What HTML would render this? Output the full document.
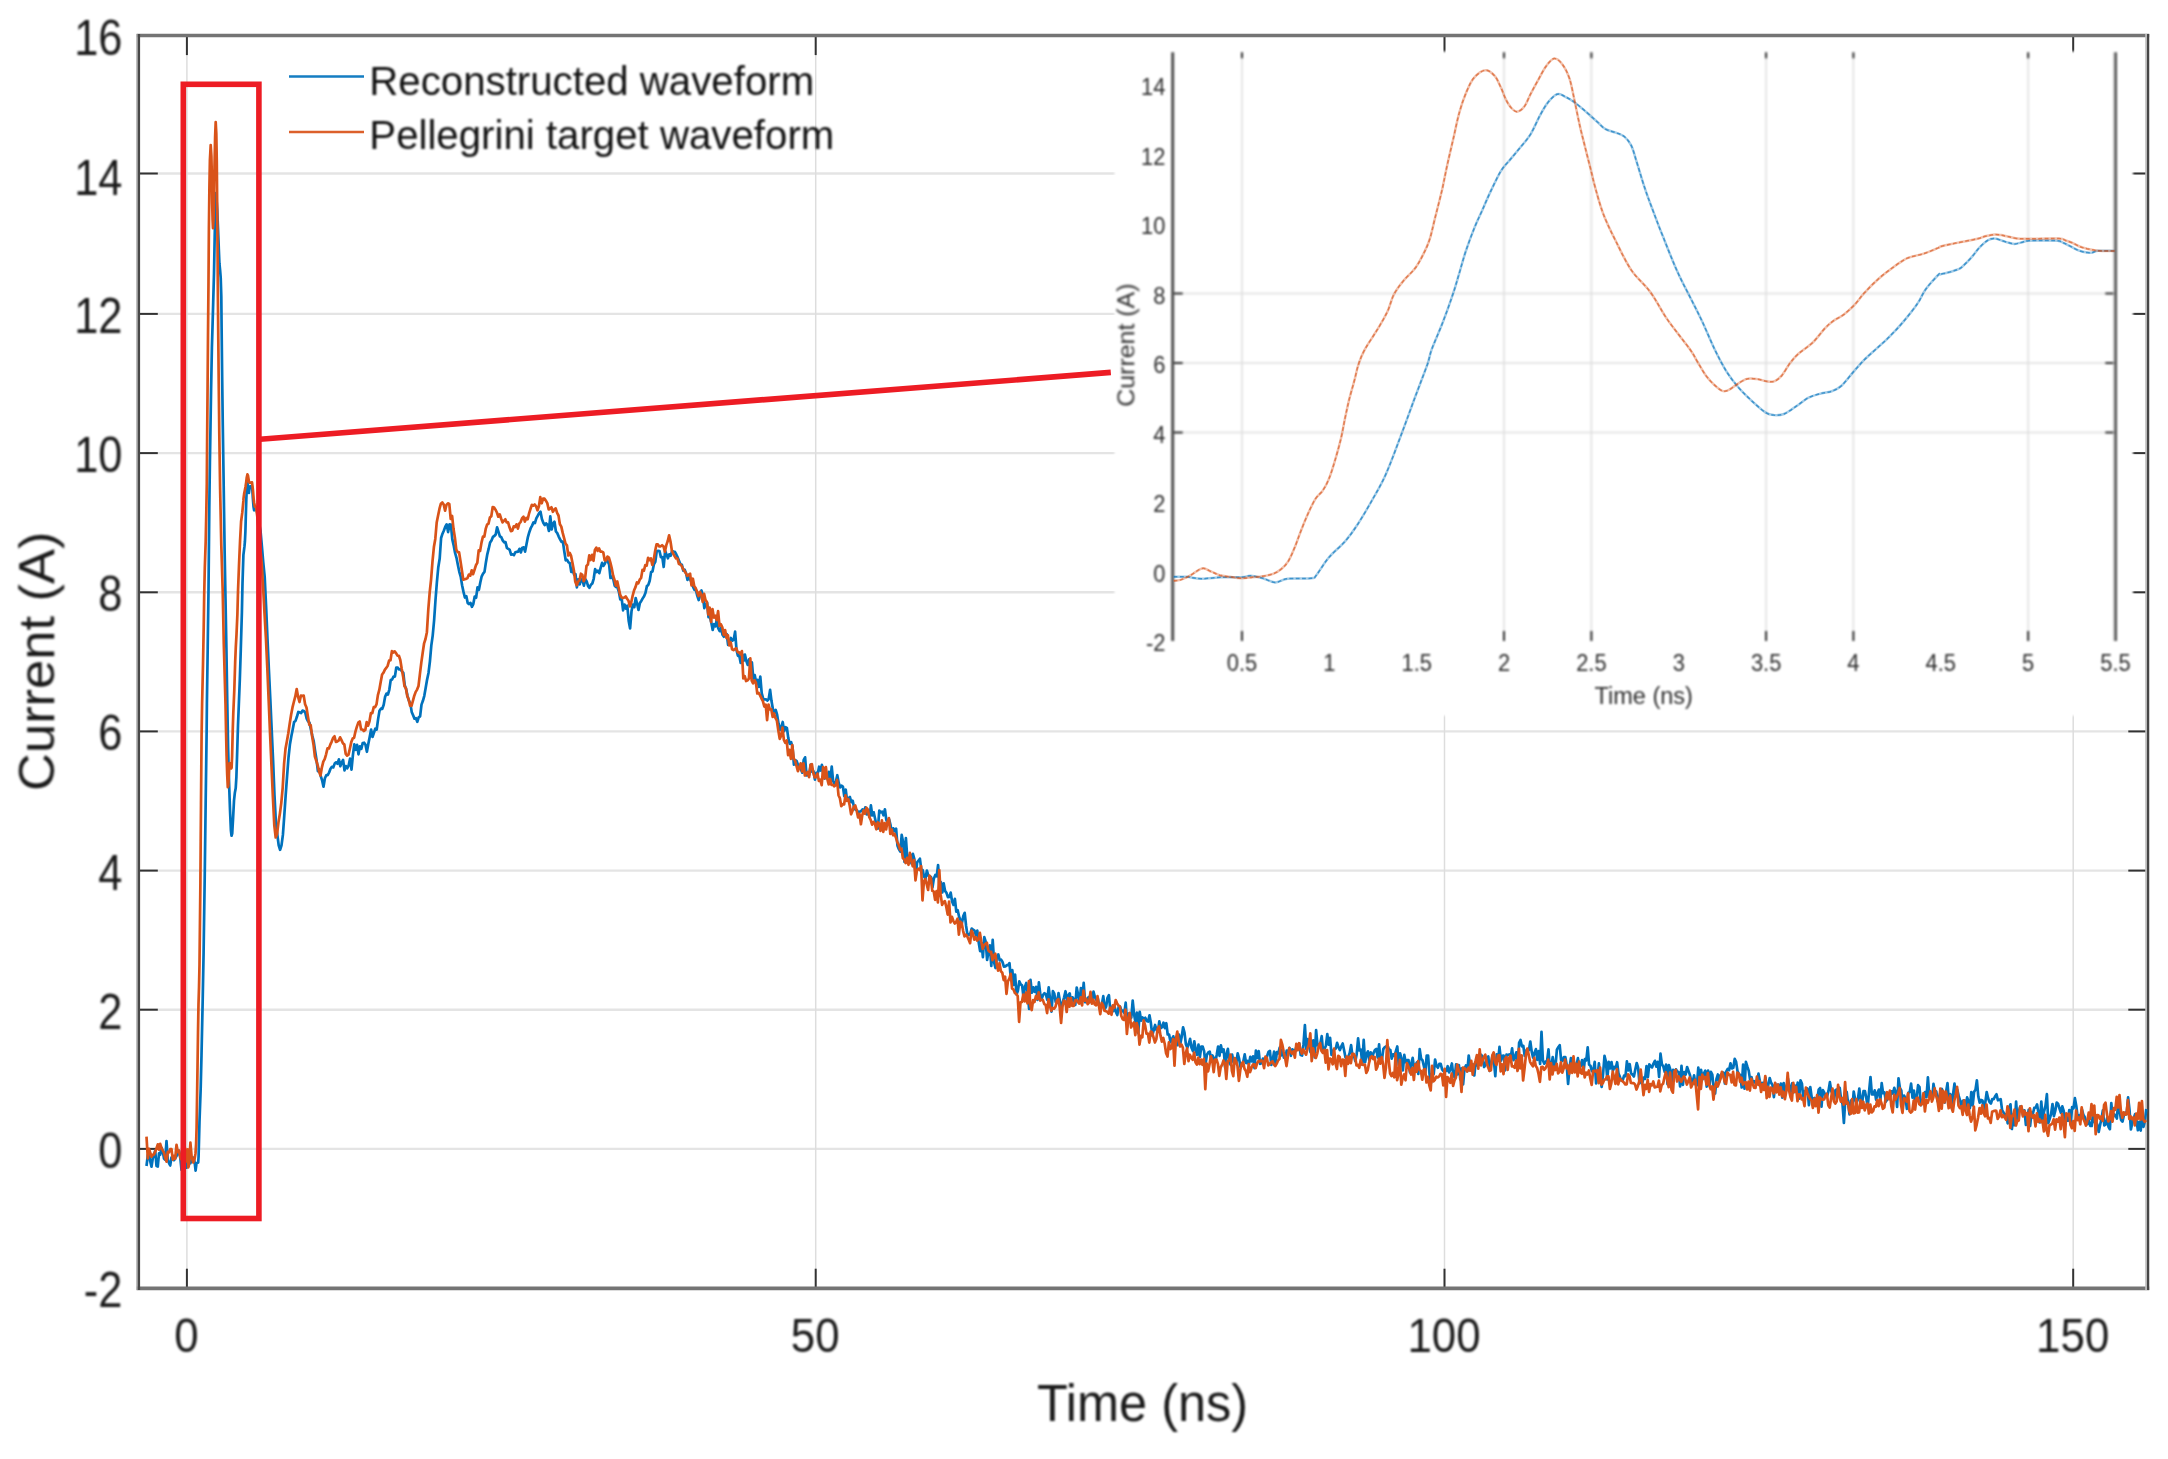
<!DOCTYPE html>
<html lang="en"><head><meta charset="utf-8"><title>Current waveform</title>
<style>html,body{margin:0;padding:0;background:#fff}body{width:2168px;height:1459px;overflow:hidden}svg{display:block}text{font-family:"Liberation Sans",Arial,Helvetica,sans-serif;fill:#1a1a1a}</style></head><body>
<svg width="2168" height="1459" viewBox="0 0 2168 1459">
<defs><filter id="soft" x="0" y="0" width="2168" height="1459" filterUnits="userSpaceOnUse" color-interpolation-filters="sRGB"><feGaussianBlur stdDeviation="0.8"/></filter></defs>
<rect width="2168" height="1459" fill="#fff"/>
<g stroke="#e4e4e4" stroke-width="2.4"><line x1="138.3" y1="1148.9" x2="2147.8" y2="1148.9"/><line x1="138.3" y1="1009.7" x2="2147.8" y2="1009.7"/><line x1="138.3" y1="870.6" x2="2147.8" y2="870.6"/><line x1="138.3" y1="731.4" x2="2147.8" y2="731.4"/><line x1="138.3" y1="592.3" x2="2147.8" y2="592.3"/><line x1="138.3" y1="453.1" x2="2147.8" y2="453.1"/><line x1="138.3" y1="313.9" x2="2147.8" y2="313.9"/><line x1="138.3" y1="173.5" x2="2147.8" y2="173.5"/></g>
<g stroke="#dddddd" stroke-width="1.5"><line x1="186.9" y1="35.6" x2="186.9" y2="1288.2"/><line x1="815.7" y1="35.6" x2="815.7" y2="1288.2"/><line x1="1444.5" y1="35.6" x2="1444.5" y2="1288.2"/><line x1="2073.2" y1="35.6" x2="2073.2" y2="1288.2"/></g>
<g stroke="#333" stroke-width="2"><line x1="138.3" y1="1148.9" x2="157.8" y2="1148.9"/><line x1="2147.8" y1="1148.9" x2="2128.3" y2="1148.9"/><line x1="138.3" y1="1009.7" x2="157.8" y2="1009.7"/><line x1="2147.8" y1="1009.7" x2="2128.3" y2="1009.7"/><line x1="138.3" y1="870.6" x2="157.8" y2="870.6"/><line x1="2147.8" y1="870.6" x2="2128.3" y2="870.6"/><line x1="138.3" y1="731.4" x2="157.8" y2="731.4"/><line x1="2147.8" y1="731.4" x2="2128.3" y2="731.4"/><line x1="138.3" y1="592.3" x2="157.8" y2="592.3"/><line x1="2147.8" y1="592.3" x2="2128.3" y2="592.3"/><line x1="138.3" y1="453.1" x2="157.8" y2="453.1"/><line x1="2147.8" y1="453.1" x2="2128.3" y2="453.1"/><line x1="138.3" y1="313.9" x2="157.8" y2="313.9"/><line x1="2147.8" y1="313.9" x2="2128.3" y2="313.9"/><line x1="138.3" y1="173.5" x2="157.8" y2="173.5"/><line x1="2147.8" y1="173.5" x2="2128.3" y2="173.5"/><line x1="186.9" y1="35.6" x2="186.9" y2="55.1"/><line x1="186.9" y1="1288.2" x2="186.9" y2="1268.7"/><line x1="815.7" y1="35.6" x2="815.7" y2="55.1"/><line x1="815.7" y1="1288.2" x2="815.7" y2="1268.7"/><line x1="1444.5" y1="35.6" x2="1444.5" y2="55.1"/><line x1="1444.5" y1="1288.2" x2="1444.5" y2="1268.7"/><line x1="2073.2" y1="35.6" x2="2073.2" y2="55.1"/><line x1="2073.2" y1="1288.2" x2="2073.2" y2="1268.7"/></g>
<g fill="none"><path d="M136.6 35.45H2149.2M136.6 1288.4H2149.2" stroke="#747474" stroke-width="3.6"/><path d="M137.0 34V1290" stroke="#b4b4b4" stroke-width="1.7"/><path d="M138.9 34V1290" stroke="#484848" stroke-width="2.4"/><path d="M2146.1 34V1290" stroke="#c0c0c0" stroke-width="1.8"/><path d="M2148.1 34V1290" stroke="#464646" stroke-width="2.3"/></g>
<path d="M146.5 1166.0L147.8 1155.4L149.0 1151.4L150.2 1161.3L151.5 1166.7L152.8 1158.4L154.0 1154.8L155.2 1150.7L156.5 1166.0L157.8 1166.5L159.0 1153.3L160.2 1154.8L161.5 1147.8L162.8 1151.5L164.0 1158.6L165.2 1159.8L166.5 1141.0L167.8 1159.9L169.0 1163.1L170.2 1165.5L171.5 1157.3L172.8 1157.0L174.0 1160.2L175.2 1158.4L176.5 1156.1L177.8 1153.4L179.0 1150.7L180.2 1156.6L181.5 1169.8L182.8 1153.3L184.0 1167.3L185.2 1159.1L186.5 1167.7L187.8 1157.9L188.3 1159.6L189.3 1159.6L190.3 1163.3L191.8 1160.4L193.2 1160.4L193.8 1157.5L194.7 1162.5L195.6 1170.7L196.5 1163.3L198.2 1162.5L198.6 1156.3L199.5 1121.3L200.7 1088.3L201.5 1055.4L202.7 999.8L203.6 952.5L204.7 878.3L205.7 800.1L206.6 734.2L206.9 703.8L207.7 648.3L208.5 590.6L208.9 549.4L209.3 508.2L209.9 463.0L210.5 425.9L211.1 388.8L211.9 347.7L212.5 327.1L213.2 302.4L214.0 273.5L214.7 236.5L215.3 209.7L215.9 193.2L216.4 197.4L217.2 209.7L218.1 230.3L218.8 248.8L219.4 263.2L220.1 270.2L220.7 277.6L221.3 296.2L221.6 327.1L222.2 380.6L222.8 425.9L223.6 479.4L224.6 549.4L225.5 598.8L226.4 648.3L227.3 703.8L228.1 748.0L229.0 780.9L230.0 809.7L230.9 830.3L231.5 835.7L232.2 833.6L233.1 818.0L234.0 800.7L234.9 792.4L235.7 788.3L236.4 776.8L237.3 748.0L238.0 725.3L238.9 702.7L239.8 680.0L240.8 649.1L241.9 612.1L242.5 583.2L243.4 555.2L243.5 554.1L244.0 550.3L244.5 546.2L244.9 541.7L245.4 531.5L245.8 516.8L246.3 499.8L246.9 486.2L247.4 482.1L248.0 486.6L248.4 490.7L248.9 493.0L249.3 490.0L249.8 486.6L250.8 486.2L251.9 486.6L252.4 490.7L252.8 497.5L253.5 506.6L254.1 510.4L254.5 510.0L254.9 506.6L256.1 507.0L260.5 530.5L261.9 546.4L263.3 562.9L264.7 577.0L266.1 606.4L267.5 639.0L268.9 669.9L270.3 698.7L271.7 729.8L273.1 760.5L274.5 795.5L275.9 822.6L277.3 834.5L278.7 845.4L280.1 849.8L281.5 845.4L282.9 834.9L284.3 815.3L285.7 794.8L287.1 775.9L288.5 757.6L289.9 744.6L291.3 736.4L292.7 729.4L294.1 722.0L295.5 720.9L296.9 716.8L298.3 712.0L299.7 712.4L301.1 713.2L302.5 710.6L303.9 711.0L305.3 712.6L306.7 718.7L308.1 721.4L309.5 722.8L310.9 729.6L312.3 735.8L313.7 741.1L315.1 750.9L316.5 759.7L317.9 771.2L319.3 769.2L320.7 775.9L322.1 780.3L323.5 786.7L324.9 778.2L326.3 775.2L327.7 775.2L329.1 772.5L330.5 768.7L331.9 766.8L333.3 767.4L334.7 763.6L336.1 762.3L337.5 763.7L338.9 759.3L340.3 766.3L341.7 762.6L343.1 759.9L344.5 770.3L345.9 766.1L347.3 768.3L348.7 765.3L350.1 758.5L351.5 769.6L352.9 755.2L354.3 744.4L355.7 749.8L357.1 744.9L358.5 754.3L359.9 746.3L361.3 748.9L362.7 743.0L364.1 742.7L365.5 744.8L366.9 751.8L368.3 743.9L369.7 736.9L371.1 729.5L372.5 737.0L373.9 732.8L375.3 728.7L376.7 729.5L378.1 719.1L379.5 710.7L380.9 708.7L382.3 708.8L383.7 704.8L385.1 696.8L386.5 693.6L387.9 694.5L389.3 689.8L390.7 680.1L392.1 679.5L393.5 676.7L394.9 676.6L396.3 667.5L397.7 667.7L399.1 669.5L400.5 669.2L401.9 671.4L403.3 672.7L404.7 685.2L406.1 688.9L407.5 695.8L408.9 700.6L410.3 703.3L411.7 711.9L413.1 715.3L414.5 718.6L415.9 718.2L417.3 721.8L418.7 717.4L420.1 716.4L421.5 704.6L422.9 700.8L424.3 695.8L425.7 687.8L427.1 679.6L428.5 673.0L429.9 661.6L431.3 645.6L432.7 635.6L434.1 620.5L435.5 600.0L436.9 582.2L438.3 567.2L439.7 558.5L441.1 538.0L442.5 533.7L443.9 530.5L445.3 526.7L446.7 524.3L448.1 532.1L449.5 524.4L450.9 524.5L452.3 539.4L453.7 545.5L455.1 552.9L456.5 557.8L457.9 564.9L459.3 571.8L460.7 576.6L462.1 585.2L463.5 591.9L464.9 597.5L466.3 596.1L467.7 603.1L469.1 604.0L470.5 602.9L471.9 606.8L473.3 604.1L474.7 596.5L476.1 597.7L477.5 587.4L478.9 589.8L480.3 582.5L481.7 576.3L483.1 573.6L484.5 571.9L485.9 562.4L487.3 554.3L488.7 548.7L490.1 542.5L491.5 540.4L492.9 536.9L494.3 536.0L495.7 534.5L497.1 527.3L498.5 531.8L499.9 536.3L501.3 537.2L502.7 540.4L504.1 542.3L505.5 542.2L506.9 547.8L508.3 548.8L509.7 549.9L511.1 554.6L512.5 554.3L513.9 555.2L515.3 552.2L516.7 551.9L518.1 551.6L519.5 548.8L520.9 552.4L522.3 547.7L523.7 547.4L525.1 551.6L526.5 544.3L527.9 537.1L529.3 532.2L530.7 528.2L532.1 525.6L533.5 522.4L534.9 523.1L536.3 518.4L537.7 515.8L539.1 513.2L540.5 511.7L541.9 519.1L543.3 522.7L544.7 525.1L546.1 523.4L547.5 524.7L548.9 531.0L550.3 516.3L551.7 529.5L553.1 523.5L554.5 521.7L555.9 531.5L557.3 533.2L558.7 536.6L560.1 539.3L561.5 541.9L562.9 541.6L564.3 551.5L565.7 560.3L567.1 559.9L568.5 562.4L569.9 563.2L571.3 572.0L572.7 569.5L574.1 574.6L575.5 574.1L576.9 587.3L578.3 579.3L579.7 584.4L581.1 579.2L582.5 580.4L583.9 585.6L585.3 579.1L586.7 581.4L588.1 586.1L589.5 587.8L590.9 584.8L592.3 583.5L593.7 578.8L595.1 569.2L596.5 572.0L597.9 570.6L599.3 573.2L600.7 567.7L602.1 562.9L603.5 565.9L604.9 563.6L606.3 559.3L607.7 561.1L609.1 564.4L610.5 578.0L611.9 576.7L613.3 579.3L614.7 585.7L616.1 587.1L617.5 587.6L618.9 591.7L620.3 599.4L621.7 598.8L623.1 610.3L624.5 604.5L625.9 608.5L627.3 605.6L628.7 621.0L630.1 628.5L631.5 611.3L632.9 604.5L634.3 607.2L635.7 598.0L637.1 603.7L638.5 609.9L639.9 603.0L641.3 600.9L642.7 598.4L644.1 596.2L645.5 592.8L646.9 586.1L648.3 584.9L649.7 580.7L651.1 572.0L652.5 571.4L653.9 564.3L655.3 561.9L656.7 551.2L658.1 550.8L659.5 551.0L660.9 557.1L662.3 557.0L663.7 567.0L665.1 550.8L666.5 554.4L667.9 558.3L669.3 554.3L670.7 555.7L672.1 550.8L673.5 551.7L674.9 551.9L676.3 554.5L677.7 557.4L679.1 560.9L680.5 564.4L681.9 564.8L683.3 570.8L684.7 569.8L686.1 573.5L687.5 580.0L688.9 574.8L690.3 579.7L691.7 582.8L693.1 586.9L694.5 590.0L695.9 590.0L697.3 595.9L698.7 600.0L700.1 595.2L701.5 590.5L702.9 595.5L704.3 608.1L705.7 604.1L707.1 602.9L708.5 617.2L709.9 616.4L711.3 622.6L712.7 630.0L714.1 624.2L715.5 626.4L716.9 618.8L718.3 628.5L719.7 631.2L721.1 627.8L722.5 634.8L723.9 636.7L725.3 633.9L726.7 634.0L728.1 644.9L729.5 642.2L730.9 638.0L732.3 640.7L733.7 639.8L735.1 631.7L736.5 649.9L737.9 655.8L739.3 655.7L740.7 663.0L742.1 654.1L743.5 661.0L744.9 654.6L746.3 660.8L747.7 664.9L749.1 659.3L750.5 669.0L751.9 662.3L753.3 678.6L754.7 675.1L756.1 681.9L757.5 679.9L758.9 686.9L760.3 676.6L761.7 693.1L763.1 698.3L764.5 699.5L765.9 699.3L767.3 700.6L768.7 699.0L770.1 689.9L771.5 701.1L772.9 709.1L774.3 712.8L775.7 710.0L777.1 714.6L778.5 723.4L779.9 730.0L781.3 727.0L782.7 722.0L784.1 731.2L785.5 727.2L786.9 727.9L788.3 738.1L789.7 743.8L791.1 742.1L792.5 746.9L793.9 764.6L795.3 760.2L796.7 761.2L798.1 765.2L799.5 766.1L800.9 769.3L802.3 772.7L803.7 759.8L805.1 757.3L806.5 775.4L807.9 775.1L809.3 774.7L810.7 764.7L812.1 771.8L813.5 771.3L814.9 779.6L816.3 772.9L817.7 773.8L819.1 766.7L820.5 770.6L821.9 764.9L823.3 773.8L824.7 778.5L826.1 777.3L827.5 777.0L828.9 771.8L830.3 781.8L831.7 766.5L833.1 781.0L834.5 783.9L835.9 781.5L837.3 775.2L838.7 782.7L840.1 787.4L841.5 785.7L842.9 786.6L844.3 796.2L845.7 789.5L847.1 800.6L848.5 798.2L849.9 797.0L851.3 802.1L852.7 800.8L854.1 807.7L855.5 809.6L856.9 810.3L858.3 812.7L859.7 811.7L861.1 811.1L862.5 809.4L863.9 813.1L865.3 807.4L866.7 814.5L868.1 811.6L869.5 816.9L870.9 805.4L872.3 815.5L873.7 812.3L875.1 818.7L876.5 825.2L877.9 828.6L879.3 810.5L880.7 812.4L882.1 811.6L883.5 815.3L884.9 809.3L886.3 819.7L887.7 823.2L889.1 819.4L890.5 824.9L891.9 833.1L893.3 828.4L894.7 831.1L896.1 828.6L897.5 845.8L898.9 849.2L900.3 851.7L901.7 834.9L903.1 842.1L904.5 861.9L905.9 838.0L907.3 858.0L908.7 859.7L910.1 854.3L911.5 863.6L912.9 853.8L914.3 858.9L915.7 875.7L917.1 862.3L918.5 860.7L919.9 858.7L921.3 869.6L922.7 870.1L924.1 876.8L925.5 878.8L926.9 870.5L928.3 875.7L929.7 876.2L931.1 877.1L932.5 887.3L933.9 878.4L935.3 875.0L936.7 876.3L938.1 865.0L939.5 887.6L940.9 882.1L942.3 892.5L943.7 883.4L945.1 891.0L946.5 892.9L947.9 897.1L949.3 896.9L950.7 892.6L952.1 901.5L953.5 904.9L954.9 898.8L956.3 911.7L957.7 910.2L959.1 916.7L960.5 920.2L961.9 923.3L963.3 916.0L964.7 912.8L966.1 926.0L967.5 935.0L968.9 935.0L970.3 933.5L971.7 928.6L973.1 929.7L974.5 930.6L975.9 935.2L977.3 930.6L978.7 942.6L980.1 951.1L981.5 942.8L982.9 957.2L984.3 937.1L985.7 941.6L987.1 960.0L988.5 951.5L989.9 945.3L991.3 966.0L992.7 939.8L994.1 962.4L995.5 968.0L996.9 957.2L998.3 954.4L999.7 960.4L1001.1 959.6L1002.5 962.0L1003.9 966.7L1005.3 966.5L1006.7 965.2L1008.1 965.2L1009.5 963.1L1010.9 979.7L1012.3 970.0L1013.7 984.9L1015.1 974.5L1016.5 994.5L1017.9 990.8L1019.3 981.4L1020.7 984.4L1022.1 985.4L1023.5 997.0L1024.9 987.0L1026.3 983.0L1027.7 993.2L1029.1 1009.0L1030.5 979.9L1031.9 992.7L1033.3 987.3L1034.7 991.8L1036.1 986.9L1037.5 999.9L1038.9 982.3L1040.3 994.1L1041.7 998.8L1043.1 994.8L1044.5 993.2L1045.9 994.3L1047.3 999.8L1048.7 987.4L1050.1 999.5L1051.5 1011.7L1052.9 991.0L1054.3 993.7L1055.7 1002.0L1057.1 1002.8L1058.5 993.1L1059.9 1000.9L1061.3 1009.4L1062.7 1002.7L1064.1 997.3L1065.5 991.2L1066.9 999.8L1068.3 995.5L1069.7 993.3L1071.1 1002.6L1072.5 997.3L1073.9 999.7L1075.3 1004.9L1076.7 987.5L1078.1 994.5L1079.5 1003.1L1080.9 988.1L1082.3 999.3L1083.7 982.8L1085.1 1002.1L1086.5 1002.2L1087.9 997.9L1089.3 996.8L1090.7 1001.8L1092.1 1001.9L1093.5 991.6L1094.9 997.1L1096.3 999.9L1097.7 997.8L1099.1 1005.4L1100.5 1007.2L1101.9 1003.9L1103.3 996.2L1104.7 1009.0L1106.1 1006.7L1107.5 997.8L1108.9 995.1L1110.3 1010.4L1111.7 1006.9L1113.1 1011.2L1114.5 1006.3L1115.9 1011.9L1117.3 1015.0L1118.7 1006.8L1120.1 1006.7L1121.5 1011.2L1122.9 1010.7L1124.3 1013.2L1125.7 1002.6L1127.1 1023.0L1128.5 1013.5L1129.9 1019.1L1131.3 1017.6L1132.7 1000.6L1134.1 1014.4L1135.5 1022.5L1136.9 1012.7L1138.3 1033.1L1139.7 1011.8L1141.1 1020.6L1142.5 1017.5L1143.9 1019.0L1145.3 1017.8L1146.7 1021.1L1148.1 1021.6L1149.5 1015.3L1150.9 1023.3L1152.3 1035.5L1153.7 1030.1L1155.1 1025.0L1156.5 1029.9L1157.9 1032.0L1159.3 1021.4L1160.7 1028.1L1162.1 1027.1L1163.5 1022.7L1164.9 1028.1L1166.3 1023.2L1167.7 1034.5L1169.1 1034.5L1170.5 1042.1L1171.9 1039.0L1173.3 1036.3L1174.7 1040.6L1176.1 1041.8L1177.5 1045.2L1178.9 1034.6L1180.3 1043.8L1181.7 1036.8L1183.1 1027.3L1184.5 1032.6L1185.9 1044.3L1187.3 1047.8L1188.7 1044.1L1190.1 1038.9L1191.5 1047.8L1192.9 1051.0L1194.3 1041.3L1195.7 1050.0L1197.1 1054.8L1198.5 1044.7L1199.9 1057.0L1201.3 1046.5L1202.7 1046.7L1204.1 1051.1L1205.5 1064.2L1206.9 1054.7L1208.3 1052.5L1209.7 1051.6L1211.1 1059.1L1212.5 1055.5L1213.9 1058.2L1215.3 1062.0L1216.7 1054.9L1218.1 1046.5L1219.5 1055.9L1220.9 1045.4L1222.3 1052.0L1223.7 1049.5L1225.1 1067.2L1226.5 1054.1L1227.9 1048.8L1229.3 1062.1L1230.7 1064.8L1232.1 1054.6L1233.5 1061.7L1234.9 1058.6L1236.3 1063.0L1237.7 1053.3L1239.1 1058.7L1240.5 1067.1L1241.9 1065.8L1243.3 1061.6L1244.7 1054.4L1246.1 1063.1L1247.5 1060.8L1248.9 1064.5L1250.3 1056.8L1251.7 1061.3L1253.1 1056.3L1254.5 1068.2L1255.9 1050.7L1257.3 1058.0L1258.7 1051.1L1260.1 1063.8L1261.5 1063.3L1262.9 1058.7L1264.3 1058.8L1265.7 1060.7L1267.1 1056.1L1268.5 1051.8L1269.9 1050.9L1271.3 1064.9L1272.7 1059.9L1274.1 1051.7L1275.5 1063.7L1276.9 1052.1L1278.3 1053.4L1279.7 1047.6L1281.1 1055.3L1282.5 1050.0L1283.9 1057.7L1285.3 1057.7L1286.7 1050.6L1288.1 1052.5L1289.5 1047.8L1290.9 1055.8L1292.3 1049.3L1293.7 1050.3L1295.1 1051.6L1296.5 1046.3L1297.9 1045.8L1299.3 1043.3L1300.7 1055.0L1302.1 1055.5L1303.5 1044.2L1304.9 1025.0L1306.3 1048.8L1307.7 1039.1L1309.1 1045.7L1310.5 1052.1L1311.9 1046.6L1313.3 1040.4L1314.7 1057.4L1316.1 1030.0L1317.5 1045.3L1318.9 1045.6L1320.3 1043.5L1321.7 1036.2L1323.1 1052.2L1324.5 1049.0L1325.9 1045.7L1327.3 1034.2L1328.7 1044.6L1330.1 1037.9L1331.5 1054.9L1332.9 1051.7L1334.3 1049.2L1335.7 1048.7L1337.1 1042.8L1338.5 1047.4L1339.9 1050.0L1341.3 1046.4L1342.7 1043.5L1344.1 1050.2L1345.5 1057.6L1346.9 1058.3L1348.3 1056.7L1349.7 1053.1L1351.1 1045.2L1352.5 1056.2L1353.9 1055.6L1355.3 1061.2L1356.7 1054.2L1358.1 1038.4L1359.5 1050.5L1360.9 1049.7L1362.3 1064.5L1363.7 1039.8L1365.1 1062.2L1366.5 1054.3L1367.9 1051.3L1369.3 1060.2L1370.7 1052.4L1372.1 1057.5L1373.5 1053.1L1374.9 1050.1L1376.3 1048.9L1377.7 1057.6L1379.1 1044.3L1380.5 1061.0L1381.9 1060.2L1383.3 1049.1L1384.7 1047.2L1386.1 1046.6L1387.5 1045.4L1388.9 1049.5L1390.3 1049.8L1391.7 1058.7L1393.1 1054.3L1394.5 1055.9L1395.9 1051.1L1397.3 1046.5L1398.7 1065.2L1400.1 1053.4L1401.5 1058.9L1402.9 1070.4L1404.3 1054.9L1405.7 1062.2L1407.1 1060.0L1408.5 1060.2L1409.9 1072.3L1411.3 1063.6L1412.7 1057.8L1414.1 1068.6L1415.5 1065.1L1416.9 1062.3L1418.3 1073.8L1419.7 1049.2L1421.1 1058.8L1422.5 1060.2L1423.9 1066.2L1425.3 1072.6L1426.7 1055.7L1428.1 1055.7L1429.5 1074.0L1430.9 1083.5L1432.3 1074.8L1433.7 1074.0L1435.1 1059.5L1436.5 1066.0L1437.9 1067.7L1439.3 1063.9L1440.7 1063.9L1442.1 1069.4L1443.5 1071.3L1444.9 1070.7L1446.3 1071.0L1447.7 1066.2L1449.1 1072.5L1450.5 1068.8L1451.9 1063.5L1453.3 1075.4L1454.7 1077.4L1456.1 1064.3L1457.5 1074.4L1458.9 1065.0L1460.3 1079.3L1461.7 1068.4L1463.1 1084.3L1464.5 1068.5L1465.9 1065.5L1467.3 1071.3L1468.7 1055.5L1470.1 1064.7L1471.5 1070.7L1472.9 1064.3L1474.3 1075.5L1475.7 1061.7L1477.1 1065.3L1478.5 1057.1L1479.9 1064.5L1481.3 1054.8L1482.7 1057.3L1484.1 1067.0L1485.5 1065.0L1486.9 1058.8L1488.3 1056.5L1489.7 1070.8L1491.1 1063.0L1492.5 1055.5L1493.9 1061.1L1495.3 1076.2L1496.7 1054.3L1498.1 1060.8L1499.5 1046.9L1500.9 1060.7L1502.3 1055.8L1503.7 1055.6L1505.1 1070.3L1506.5 1054.6L1507.9 1055.2L1509.3 1054.3L1510.7 1057.3L1512.1 1048.4L1513.5 1060.1L1514.9 1056.8L1516.3 1052.3L1517.7 1069.4L1519.1 1042.9L1520.5 1040.0L1521.9 1046.3L1523.3 1045.8L1524.7 1055.9L1526.1 1050.7L1527.5 1051.0L1528.9 1050.1L1530.3 1041.5L1531.7 1051.6L1533.1 1057.6L1534.5 1052.9L1535.9 1049.1L1537.3 1059.8L1538.7 1051.0L1540.1 1063.9L1541.5 1031.9L1542.9 1060.5L1544.3 1063.7L1545.7 1061.6L1547.1 1061.0L1548.5 1049.3L1549.9 1070.9L1551.3 1066.0L1552.7 1057.2L1554.1 1066.7L1555.5 1065.9L1556.9 1049.7L1558.3 1047.2L1559.7 1045.2L1561.1 1060.1L1562.5 1060.8L1563.9 1057.1L1565.3 1057.0L1566.7 1064.7L1568.1 1084.0L1569.5 1068.1L1570.9 1058.2L1572.3 1062.8L1573.7 1061.1L1575.1 1069.3L1576.5 1065.4L1577.9 1058.2L1579.3 1066.6L1580.7 1065.7L1582.1 1060.0L1583.5 1072.4L1584.9 1059.1L1586.3 1060.4L1587.7 1047.4L1589.1 1064.7L1590.5 1065.8L1591.9 1071.2L1593.3 1070.7L1594.7 1061.9L1596.1 1083.5L1597.5 1077.5L1598.9 1063.4L1600.3 1079.8L1601.7 1086.9L1603.1 1073.6L1604.5 1055.8L1605.9 1061.5L1607.3 1079.4L1608.7 1061.8L1610.1 1068.4L1611.5 1062.0L1612.9 1070.7L1614.3 1067.0L1615.7 1068.1L1617.1 1062.2L1618.5 1073.6L1619.9 1076.9L1621.3 1080.5L1622.7 1080.4L1624.1 1075.6L1625.5 1076.2L1626.9 1061.4L1628.3 1070.5L1629.7 1064.1L1631.1 1073.4L1632.5 1074.6L1633.9 1076.5L1635.3 1069.4L1636.7 1063.0L1638.1 1067.6L1639.5 1083.5L1640.9 1080.6L1642.3 1082.9L1643.7 1077.6L1645.1 1078.8L1646.5 1066.2L1647.9 1077.2L1649.3 1064.4L1650.7 1066.1L1652.1 1067.4L1653.5 1063.5L1654.9 1060.8L1656.3 1066.6L1657.7 1061.9L1659.1 1076.9L1660.5 1053.7L1661.9 1064.2L1663.3 1066.5L1664.7 1072.0L1666.1 1064.6L1667.5 1084.1L1668.9 1065.1L1670.3 1069.4L1671.7 1083.6L1673.1 1069.9L1674.5 1074.5L1675.9 1069.3L1677.3 1071.4L1678.7 1072.1L1680.1 1086.3L1681.5 1065.9L1682.9 1084.8L1684.3 1072.0L1685.7 1074.6L1687.1 1067.0L1688.5 1071.0L1689.9 1074.9L1691.3 1081.4L1692.7 1082.0L1694.1 1075.4L1695.5 1084.6L1696.9 1085.3L1698.3 1067.6L1699.7 1076.9L1701.1 1069.9L1702.5 1079.5L1703.9 1073.3L1705.3 1070.7L1706.7 1086.6L1708.1 1070.6L1709.5 1085.2L1710.9 1071.9L1712.3 1074.7L1713.7 1088.8L1715.1 1093.5L1716.5 1078.9L1717.9 1074.5L1719.3 1081.6L1720.7 1075.1L1722.1 1073.5L1723.5 1072.6L1724.9 1083.5L1726.3 1071.5L1727.7 1069.0L1729.1 1070.1L1730.5 1063.4L1731.9 1068.4L1733.3 1067.8L1734.7 1058.9L1736.1 1061.9L1737.5 1071.1L1738.9 1074.2L1740.3 1075.0L1741.7 1087.5L1743.1 1064.7L1744.5 1088.7L1745.9 1061.8L1747.3 1066.4L1748.7 1070.6L1750.1 1079.6L1751.5 1077.1L1752.9 1082.5L1754.3 1081.2L1755.7 1083.3L1757.1 1082.2L1758.5 1073.7L1759.9 1081.3L1761.3 1085.1L1762.7 1082.9L1764.1 1086.4L1765.5 1077.6L1766.9 1094.7L1768.3 1084.8L1769.7 1078.0L1771.1 1082.8L1772.5 1085.1L1773.9 1097.1L1775.3 1083.6L1776.7 1091.2L1778.1 1084.5L1779.5 1093.2L1780.9 1083.5L1782.3 1097.7L1783.7 1083.0L1785.1 1090.8L1786.5 1089.2L1787.9 1078.4L1789.3 1086.8L1790.7 1091.7L1792.1 1083.4L1793.5 1092.4L1794.9 1085.6L1796.3 1090.8L1797.7 1082.7L1799.1 1098.7L1800.5 1080.3L1801.9 1083.5L1803.3 1097.3L1804.7 1091.0L1806.1 1093.2L1807.5 1088.5L1808.9 1105.2L1810.3 1087.1L1811.7 1097.5L1813.1 1099.3L1814.5 1097.9L1815.9 1099.1L1817.3 1098.8L1818.7 1089.7L1820.1 1088.0L1821.5 1106.7L1822.9 1090.1L1824.3 1092.7L1825.7 1096.5L1827.1 1096.1L1828.5 1090.9L1829.9 1082.2L1831.3 1091.1L1832.7 1094.1L1834.1 1099.3L1835.5 1089.9L1836.9 1089.4L1838.3 1093.0L1839.7 1087.7L1841.1 1099.4L1842.5 1103.8L1843.9 1123.0L1845.3 1099.2L1846.7 1091.8L1848.1 1103.2L1849.5 1114.3L1850.9 1100.5L1852.3 1109.7L1853.7 1091.5L1855.1 1099.2L1856.5 1103.0L1857.9 1099.2L1859.3 1088.7L1860.7 1098.9L1862.1 1103.6L1863.5 1091.2L1864.9 1091.0L1866.3 1097.9L1867.7 1107.9L1869.1 1091.0L1870.5 1077.0L1871.9 1094.5L1873.3 1094.5L1874.7 1090.4L1876.1 1099.9L1877.5 1092.9L1878.9 1089.6L1880.3 1101.0L1881.7 1083.2L1883.1 1093.1L1884.5 1092.4L1885.9 1101.6L1887.3 1099.4L1888.7 1096.8L1890.1 1097.7L1891.5 1091.3L1892.9 1093.6L1894.3 1087.8L1895.7 1092.2L1897.1 1106.9L1898.5 1078.3L1899.9 1088.0L1901.3 1090.4L1902.7 1105.8L1904.1 1095.5L1905.5 1098.5L1906.9 1108.8L1908.3 1092.8L1909.7 1092.1L1911.1 1083.7L1912.5 1097.6L1913.9 1090.5L1915.3 1103.6L1916.7 1097.2L1918.1 1085.2L1919.5 1087.1L1920.9 1105.1L1922.3 1100.0L1923.7 1100.1L1925.1 1092.2L1926.5 1097.2L1927.9 1077.4L1929.3 1095.9L1930.7 1094.1L1932.1 1099.5L1933.5 1083.9L1934.9 1092.2L1936.3 1091.5L1937.7 1101.3L1939.1 1098.3L1940.5 1091.6L1941.9 1089.0L1943.3 1096.1L1944.7 1102.7L1946.1 1091.7L1947.5 1083.2L1948.9 1101.8L1950.3 1094.2L1951.7 1107.7L1953.1 1093.9L1954.5 1083.6L1955.9 1095.5L1957.3 1089.8L1958.7 1095.9L1960.1 1100.6L1961.5 1106.6L1962.9 1100.8L1964.3 1100.3L1965.7 1108.6L1967.1 1097.4L1968.5 1101.2L1969.9 1108.1L1971.3 1092.0L1972.7 1105.3L1974.1 1091.8L1975.5 1089.8L1976.9 1080.3L1978.3 1096.5L1979.7 1102.7L1981.1 1100.0L1982.5 1100.5L1983.9 1112.0L1985.3 1102.5L1986.7 1092.0L1988.1 1098.3L1989.5 1102.1L1990.9 1103.5L1992.3 1099.0L1993.7 1099.2L1995.1 1096.2L1996.5 1094.3L1997.9 1100.3L1999.3 1099.8L2000.7 1099.2L2002.1 1110.1L2003.5 1112.4L2004.9 1116.6L2006.3 1113.9L2007.7 1123.4L2009.1 1107.8L2010.5 1104.3L2011.9 1129.0L2013.3 1114.6L2014.7 1125.2L2016.1 1101.7L2017.5 1120.9L2018.9 1111.3L2020.3 1106.5L2021.7 1108.2L2023.1 1115.5L2024.5 1110.3L2025.9 1124.8L2027.3 1119.7L2028.7 1109.8L2030.1 1126.0L2031.5 1112.6L2032.9 1113.5L2034.3 1107.9L2035.7 1107.5L2037.1 1104.4L2038.5 1113.6L2039.9 1122.5L2041.3 1101.5L2042.7 1119.4L2044.1 1111.3L2045.5 1105.7L2046.9 1094.2L2048.3 1123.1L2049.7 1118.8L2051.1 1113.9L2052.5 1104.0L2053.9 1116.2L2055.3 1110.7L2056.7 1102.6L2058.1 1103.8L2059.5 1108.5L2060.9 1112.9L2062.3 1106.4L2063.7 1111.0L2065.1 1120.8L2066.5 1117.3L2067.9 1120.7L2069.3 1110.0L2070.7 1124.3L2072.1 1107.2L2073.5 1108.4L2074.9 1098.2L2076.3 1106.0L2077.7 1117.7L2079.1 1115.3L2080.5 1116.7L2081.9 1109.3L2083.3 1114.6L2084.7 1116.9L2086.1 1121.7L2087.5 1124.1L2088.9 1120.7L2090.3 1125.9L2091.7 1126.0L2093.1 1112.8L2094.5 1122.3L2095.9 1121.1L2097.3 1124.8L2098.7 1131.9L2100.1 1125.1L2101.5 1118.5L2102.9 1110.3L2104.3 1125.4L2105.7 1124.4L2107.1 1118.0L2108.5 1126.8L2109.9 1129.2L2111.3 1103.1L2112.7 1117.9L2114.1 1114.3L2115.5 1115.4L2116.9 1118.5L2118.3 1100.2L2119.7 1111.7L2121.1 1120.0L2122.5 1121.6L2123.9 1115.2L2125.3 1112.7L2126.7 1114.2L2128.1 1097.4L2129.5 1109.7L2130.9 1129.4L2132.3 1122.9L2133.7 1118.1L2135.1 1114.1L2136.5 1120.4L2137.9 1130.2L2139.3 1121.8L2140.7 1130.6L2142.1 1117.4L2143.5 1126.8L2144.9 1121.0L2146.3 1109.0" fill="none" stroke="#0072BD" stroke-width="2.7" stroke-linejoin="round"/>
<path d="M146.5 1136.6L147.8 1158.3L149.0 1148.8L150.2 1152.7L151.5 1156.8L152.8 1154.8L154.0 1154.4L155.2 1151.6L156.5 1148.4L157.8 1144.3L159.0 1149.7L160.2 1143.8L161.5 1148.2L162.8 1150.6L164.0 1152.7L165.2 1157.7L166.5 1161.7L167.8 1151.8L169.0 1152.4L170.2 1149.2L171.5 1149.2L172.8 1159.6L174.0 1156.0L175.2 1158.7L176.5 1144.8L177.8 1152.1L179.0 1150.6L180.2 1157.3L181.5 1159.7L182.8 1155.2L184.0 1152.1L185.2 1148.4L186.5 1161.4L187.8 1149.3L188.3 1167.4L188.8 1165.8L189.6 1156.3L190.4 1142.7L191.0 1149.3L191.6 1156.3L192.4 1159.6L193.2 1162.5L194.0 1160.4L194.7 1158.4L195.5 1153.4L196.1 1143.9L196.6 1127.5L197.0 1100.7L197.5 1067.8L198.0 1032.8L198.5 1003.9L199.0 987.5L199.5 964.8L199.9 927.8L200.4 882.5L200.7 841.3L201.0 804.2L201.3 767.2L201.6 734.2L202.1 703.8L203.0 664.7L203.7 627.7L204.2 594.7L204.8 568.0L205.7 541.2L206.3 512.4L206.8 483.5L207.1 442.4L207.6 384.7L208.0 335.3L208.5 281.8L208.9 228.2L209.4 187.1L209.9 160.3L210.7 145.1L211.4 156.2L211.9 178.8L212.2 203.5L212.6 220.0L213.0 228.2L213.6 217.9L214.0 193.2L214.5 166.5L215.1 137.6L215.7 122.0L216.3 133.5L216.8 162.3L217.2 207.6L217.6 257.1L217.9 298.2L218.3 339.4L218.7 380.6L219.3 434.1L220.1 487.7L221.3 545.3L222.7 590.6L223.8 644.1L225.5 703.8L226.0 729.4L226.6 756.2L227.2 774.7L227.8 787.1L228.3 785.8L228.8 774.7L229.6 763.2L230.3 763.6L231.1 768.5L231.6 767.7L232.1 756.2L232.7 731.5L233.3 713.0L234.3 690.3L235.2 661.5L235.8 647.1L236.5 634.7L237.4 614.1L238.0 591.5L239.1 562.7L240.1 540.0L241.1 521.5L242.3 512.4L243.4 500.9L243.5 498.6L244.1 494.1L244.9 490.0L245.6 486.2L246.2 482.1L246.7 477.8L247.4 474.4L247.9 475.3L248.4 478.3L249.0 482.1L249.8 482.8L252.0 482.3L252.5 486.2L253.0 490.7L253.6 498.6L254.1 502.5L254.9 506.6L256.1 507.0L257.5 518.4L258.9 533.4L260.3 548.3L261.7 563.2L263.1 587.2L264.5 613.1L265.9 637.7L267.3 668.0L268.7 701.2L270.1 734.7L271.5 766.1L272.9 797.3L274.3 825.3L275.7 837.5L277.1 833.5L278.5 822.1L279.9 813.6L281.3 802.8L282.7 787.6L284.1 763.7L285.5 748.8L286.9 741.2L288.3 733.2L289.7 723.6L291.1 714.7L292.5 707.4L293.9 701.7L295.3 696.4L296.7 689.0L298.1 696.9L299.5 702.0L300.9 695.7L302.3 695.9L303.7 695.6L305.1 704.3L306.5 707.5L307.9 716.4L309.3 724.8L310.7 725.1L312.1 736.2L313.5 744.4L314.9 756.5L316.3 760.7L317.7 765.3L319.1 771.6L320.5 775.5L321.9 767.3L323.3 761.7L324.7 759.2L326.1 754.3L327.5 748.4L328.9 748.5L330.3 744.6L331.7 741.6L333.1 737.9L334.5 736.3L335.9 742.0L337.3 741.4L338.7 740.5L340.1 737.3L341.5 740.1L342.9 743.3L344.3 744.3L345.7 753.8L347.1 755.6L348.5 754.6L349.9 748.5L351.3 742.1L352.7 738.5L354.1 737.8L355.5 731.3L356.9 726.6L358.3 722.6L359.7 721.5L361.1 729.5L362.5 729.5L363.9 731.0L365.3 730.0L366.7 722.1L368.1 725.7L369.5 721.3L370.9 713.1L372.3 713.1L373.7 707.2L375.1 707.1L376.5 704.4L377.9 695.1L379.3 689.9L380.7 681.9L382.1 674.5L383.5 672.7L384.9 669.6L386.3 667.9L387.7 665.7L389.1 660.6L390.5 660.2L391.9 651.1L393.3 652.5L394.7 651.4L396.1 653.3L397.5 655.6L398.9 655.8L400.3 660.0L401.7 668.8L403.1 676.4L404.5 686.2L405.9 688.3L407.3 696.2L408.7 699.6L410.1 705.6L411.5 705.9L412.9 700.8L414.3 695.7L415.7 691.9L417.1 689.6L418.5 686.0L419.9 674.1L421.3 662.6L422.7 652.7L424.1 643.3L425.5 639.0L426.9 632.2L428.3 609.5L429.7 592.4L431.1 579.3L432.5 561.4L433.9 547.1L435.3 538.9L436.7 522.5L438.1 515.6L439.5 508.7L440.9 503.7L442.3 502.4L443.7 504.5L445.1 510.7L446.5 504.8L447.9 503.3L449.3 503.9L450.7 518.8L452.1 515.9L453.5 528.8L454.9 537.7L456.3 549.6L457.7 552.2L459.1 552.4L460.5 561.2L461.9 570.5L463.3 579.7L464.7 579.2L466.1 578.9L467.5 578.1L468.9 574.6L470.3 575.6L471.7 570.3L473.1 574.2L474.5 569.8L475.9 565.3L477.3 562.9L478.7 550.3L480.1 550.9L481.5 542.6L482.9 536.7L484.3 536.7L485.7 528.9L487.1 524.6L488.5 523.6L489.9 517.5L491.3 516.2L492.7 507.0L494.1 507.6L495.5 509.7L496.9 512.5L498.3 516.7L499.7 514.3L501.1 518.5L502.5 522.4L503.9 520.9L505.3 519.3L506.7 522.5L508.1 522.4L509.5 527.3L510.9 531.1L512.3 530.7L513.7 526.3L515.1 527.0L516.5 524.3L517.9 528.6L519.3 523.5L520.7 521.8L522.1 518.2L523.5 516.8L524.9 521.6L526.3 518.0L527.7 519.2L529.1 513.3L530.5 508.8L531.9 504.8L533.3 505.6L534.7 504.5L536.1 506.3L537.5 510.3L538.9 506.2L540.3 497.2L541.7 503.3L543.1 498.7L544.5 498.6L545.9 500.8L547.3 503.1L548.7 509.5L550.1 508.6L551.5 507.3L552.9 511.8L554.3 509.5L555.7 508.4L557.1 512.9L558.5 515.5L559.9 524.3L561.3 526.6L562.7 532.9L564.1 538.1L565.5 543.5L566.9 545.3L568.3 555.5L569.7 552.9L571.1 555.9L572.5 563.1L573.9 570.5L575.3 581.8L576.7 585.3L578.1 581.6L579.5 580.2L580.9 573.7L582.3 574.8L583.7 581.2L585.1 578.2L586.5 565.9L587.9 564.5L589.3 555.3L590.7 560.0L592.1 554.8L593.5 560.8L594.9 549.9L596.3 547.6L597.7 550.9L599.1 548.5L600.5 551.7L601.9 551.6L603.3 552.4L604.7 560.2L606.1 560.3L607.5 556.6L608.9 557.6L610.3 562.4L611.7 568.0L613.1 575.5L614.5 579.8L615.9 585.7L617.3 581.5L618.7 588.0L620.1 594.6L621.5 597.3L622.9 598.1L624.3 597.6L625.7 596.4L627.1 598.7L628.5 600.8L629.9 606.5L631.3 602.0L632.7 595.5L634.1 590.3L635.5 587.1L636.9 582.5L638.3 583.3L639.7 579.7L641.1 578.0L642.5 569.8L643.9 570.7L645.3 565.2L646.7 565.6L648.1 557.8L649.5 560.2L650.9 558.4L652.3 564.9L653.7 559.9L655.1 551.2L656.5 544.4L657.9 544.4L659.3 546.5L660.7 546.3L662.1 545.2L663.5 546.4L664.9 551.6L666.3 545.1L667.7 541.3L669.1 535.3L670.5 541.5L671.9 550.8L673.3 553.9L674.7 556.3L676.1 558.5L677.5 558.6L678.9 564.0L680.3 564.3L681.7 566.0L683.1 569.2L684.5 571.0L685.9 573.2L687.3 575.8L688.7 575.0L690.1 573.6L691.5 585.4L692.9 578.7L694.3 586.4L695.7 588.2L697.1 591.7L698.5 596.1L699.9 591.9L701.3 594.8L702.7 602.0L704.1 593.8L705.5 600.0L706.9 602.1L708.3 614.5L709.7 607.6L711.1 621.9L712.5 609.1L713.9 617.6L715.3 615.8L716.7 620.0L718.1 611.2L719.5 626.0L720.9 624.3L722.3 627.3L723.7 634.8L725.1 630.1L726.5 638.1L727.9 635.1L729.3 645.4L730.7 642.2L732.1 649.4L733.5 650.1L734.9 649.0L736.3 648.3L737.7 652.1L739.1 652.4L740.5 654.2L741.9 651.1L743.3 678.4L744.7 676.2L746.1 681.0L747.5 680.3L748.9 678.6L750.3 658.4L751.7 680.7L753.1 683.4L754.5 680.3L755.9 682.6L757.3 693.5L758.7 693.0L760.1 695.4L761.5 698.5L762.9 701.1L764.3 706.5L765.7 704.6L767.1 720.1L768.5 704.5L769.9 709.3L771.3 709.4L772.7 717.0L774.1 713.5L775.5 718.2L776.9 720.7L778.3 730.3L779.7 738.9L781.1 735.7L782.5 727.7L783.9 740.0L785.3 742.9L786.7 740.5L788.1 755.1L789.5 749.8L790.9 758.8L792.3 745.0L793.7 758.3L795.1 760.8L796.5 766.0L797.9 771.2L799.3 767.2L800.7 763.3L802.1 771.4L803.5 763.4L804.9 775.5L806.3 773.2L807.7 772.0L809.1 777.1L810.5 765.0L811.9 764.2L813.3 772.9L814.7 777.3L816.1 777.1L817.5 773.6L818.9 780.9L820.3 779.6L821.7 785.2L823.1 767.1L824.5 778.3L825.9 767.1L827.3 778.8L828.7 784.4L830.1 779.0L831.5 784.9L832.9 784.8L834.3 786.3L835.7 785.0L837.1 780.0L838.5 795.2L839.9 798.2L841.3 806.2L842.7 804.2L844.1 804.5L845.5 795.3L846.9 800.8L848.3 799.3L849.7 805.5L851.1 814.3L852.5 810.7L853.9 806.5L855.3 805.5L856.7 810.7L858.1 817.5L859.5 814.0L860.9 824.2L862.3 815.1L863.7 810.5L865.1 813.6L866.5 807.7L867.9 809.6L869.3 817.2L870.7 819.8L872.1 824.6L873.5 821.8L874.9 823.6L876.3 829.3L877.7 822.4L879.1 823.3L880.5 830.9L881.9 820.4L883.3 831.8L884.7 823.2L886.1 829.4L887.5 821.7L888.9 818.1L890.3 833.9L891.7 829.6L893.1 835.3L894.5 833.7L895.9 837.4L897.3 842.1L898.7 844.9L900.1 849.7L901.5 848.6L902.9 858.3L904.3 859.5L905.7 863.1L907.1 857.8L908.5 864.8L909.9 852.9L911.3 860.3L912.7 866.3L914.1 860.1L915.5 880.3L916.9 870.0L918.3 868.7L919.7 870.0L921.1 866.1L922.5 900.3L923.9 881.4L925.3 879.0L926.7 884.1L928.1 890.0L929.5 875.7L930.9 878.3L932.3 890.8L933.7 891.4L935.1 899.8L936.5 891.1L937.9 902.4L939.3 870.0L940.7 894.9L942.1 904.8L943.5 902.2L944.9 901.2L946.3 906.9L947.7 914.6L949.1 901.6L950.5 922.4L951.9 916.8L953.3 920.8L954.7 923.5L956.1 922.1L957.5 918.7L958.9 934.7L960.3 921.6L961.7 923.0L963.1 930.8L964.5 936.4L965.9 934.7L967.3 936.5L968.7 939.8L970.1 943.2L971.5 930.7L972.9 933.4L974.3 939.7L975.7 937.1L977.1 940.5L978.5 939.1L979.9 932.9L981.3 941.5L982.7 949.0L984.1 945.0L985.5 943.8L986.9 942.8L988.3 950.3L989.7 951.9L991.1 951.8L992.5 960.2L993.9 955.3L995.3 953.7L996.7 964.0L998.1 970.6L999.5 963.2L1000.9 971.3L1002.3 972.7L1003.7 980.1L1005.1 976.7L1006.5 993.9L1007.9 981.2L1009.3 978.8L1010.7 973.8L1012.1 988.6L1013.5 989.4L1014.9 993.1L1016.3 993.9L1017.7 996.0L1019.1 1021.8L1020.5 1002.4L1021.9 1002.0L1023.3 994.6L1024.7 1001.5L1026.1 992.7L1027.5 1003.4L1028.9 981.0L1030.3 1005.7L1031.7 1010.0L1033.1 1000.1L1034.5 1002.0L1035.9 996.1L1037.3 998.9L1038.7 992.4L1040.1 1000.6L1041.5 999.7L1042.9 1000.1L1044.3 1004.1L1045.7 1004.9L1047.1 1013.1L1048.5 999.3L1049.9 1005.9L1051.3 1010.6L1052.7 1008.0L1054.1 1008.7L1055.5 1006.7L1056.9 1000.6L1058.3 999.1L1059.7 1007.3L1061.1 1023.0L1062.5 1006.1L1063.9 1000.7L1065.3 1001.5L1066.7 1012.0L1068.1 998.0L1069.5 1006.7L1070.9 998.2L1072.3 1005.9L1073.7 1006.0L1075.1 1000.4L1076.5 1000.0L1077.9 1002.0L1079.3 1003.6L1080.7 997.4L1082.1 1005.4L1083.5 990.6L1084.9 1000.7L1086.3 999.0L1087.7 1004.2L1089.1 1002.4L1090.5 991.9L1091.9 1003.7L1093.3 999.8L1094.7 1004.4L1096.1 1005.3L1097.5 996.2L1098.9 1005.9L1100.3 1014.2L1101.7 1002.9L1103.1 1005.3L1104.5 1010.8L1105.9 1011.3L1107.3 1011.8L1108.7 1013.6L1110.1 1007.7L1111.5 1014.8L1112.9 1005.3L1114.3 1007.7L1115.7 1000.1L1117.1 1003.4L1118.5 1005.5L1119.9 1006.6L1121.3 1016.0L1122.7 1019.3L1124.1 1019.9L1125.5 1009.7L1126.9 1033.8L1128.3 1019.0L1129.7 1012.8L1131.1 1027.5L1132.5 1024.4L1133.9 1022.5L1135.3 1035.1L1136.7 1023.0L1138.1 1027.9L1139.5 1044.6L1140.9 1035.8L1142.3 1037.3L1143.7 1020.4L1145.1 1025.3L1146.5 1033.7L1147.9 1033.6L1149.3 1042.6L1150.7 1031.5L1152.1 1032.4L1153.5 1037.3L1154.9 1042.5L1156.3 1039.2L1157.7 1028.8L1159.1 1026.5L1160.5 1035.6L1161.9 1041.6L1163.3 1038.0L1164.7 1043.7L1166.1 1053.3L1167.5 1056.5L1168.9 1042.3L1170.3 1049.1L1171.7 1047.7L1173.1 1039.1L1174.5 1065.6L1175.9 1039.0L1177.3 1031.6L1178.7 1041.1L1180.1 1046.5L1181.5 1044.6L1182.9 1047.8L1184.3 1064.0L1185.7 1053.4L1187.1 1048.3L1188.5 1061.1L1189.9 1054.7L1191.3 1057.8L1192.7 1059.8L1194.1 1052.5L1195.5 1062.2L1196.9 1064.6L1198.3 1057.7L1199.7 1064.2L1201.1 1059.6L1202.5 1064.8L1203.9 1058.8L1205.3 1089.2L1206.7 1063.6L1208.1 1071.3L1209.5 1064.5L1210.9 1056.3L1212.3 1060.6L1213.7 1072.2L1215.1 1059.5L1216.5 1059.5L1217.9 1063.8L1219.3 1075.8L1220.7 1067.2L1222.1 1064.8L1223.5 1060.5L1224.9 1063.2L1226.3 1079.0L1227.7 1061.1L1229.1 1060.6L1230.5 1054.5L1231.9 1071.0L1233.3 1076.1L1234.7 1058.1L1236.1 1061.0L1237.5 1066.0L1238.9 1080.9L1240.3 1070.0L1241.7 1063.8L1243.1 1061.9L1244.5 1068.7L1245.9 1071.1L1247.3 1076.8L1248.7 1064.2L1250.1 1072.2L1251.5 1067.8L1252.9 1064.6L1254.3 1064.4L1255.7 1068.0L1257.1 1063.3L1258.5 1060.9L1259.9 1061.5L1261.3 1060.3L1262.7 1061.5L1264.1 1068.1L1265.5 1056.5L1266.9 1058.2L1268.3 1065.4L1269.7 1063.9L1271.1 1062.3L1272.5 1061.2L1273.9 1064.5L1275.3 1066.0L1276.7 1063.6L1278.1 1060.5L1279.5 1058.8L1280.9 1039.9L1282.3 1044.6L1283.7 1051.8L1285.1 1057.8L1286.5 1066.1L1287.9 1056.3L1289.3 1048.2L1290.7 1051.9L1292.1 1053.5L1293.5 1051.3L1294.9 1057.6L1296.3 1043.9L1297.7 1050.2L1299.1 1043.2L1300.5 1049.7L1301.9 1053.7L1303.3 1049.4L1304.7 1052.6L1306.1 1054.7L1307.5 1048.2L1308.9 1045.0L1310.3 1033.4L1311.7 1061.1L1313.1 1048.4L1314.5 1054.3L1315.9 1057.9L1317.3 1053.3L1318.7 1046.2L1320.1 1043.1L1321.5 1051.0L1322.9 1052.9L1324.3 1049.8L1325.7 1062.7L1327.1 1050.1L1328.5 1069.4L1329.9 1058.5L1331.3 1059.3L1332.7 1064.3L1334.1 1048.7L1335.5 1063.5L1336.9 1069.0L1338.3 1055.8L1339.7 1057.1L1341.1 1066.1L1342.5 1059.6L1343.9 1059.8L1345.3 1075.8L1346.7 1056.6L1348.1 1063.8L1349.5 1056.6L1350.9 1063.1L1352.3 1053.9L1353.7 1053.8L1355.1 1056.4L1356.5 1065.5L1357.9 1064.9L1359.3 1067.8L1360.7 1059.9L1362.1 1064.6L1363.5 1064.9L1364.9 1064.6L1366.3 1073.0L1367.7 1070.2L1369.1 1062.8L1370.5 1057.4L1371.9 1056.3L1373.3 1059.1L1374.7 1056.8L1376.1 1069.6L1377.5 1066.6L1378.9 1058.6L1380.3 1063.6L1381.7 1057.0L1383.1 1064.1L1384.5 1077.9L1385.9 1067.8L1387.3 1040.2L1388.7 1060.0L1390.1 1073.5L1391.5 1076.1L1392.9 1072.9L1394.3 1077.3L1395.7 1053.5L1397.1 1080.1L1398.5 1073.9L1399.9 1059.8L1401.3 1084.7L1402.7 1078.0L1404.1 1074.5L1405.5 1080.3L1406.9 1063.0L1408.3 1066.2L1409.7 1070.1L1411.1 1074.5L1412.5 1067.8L1413.9 1080.0L1415.3 1064.4L1416.7 1071.7L1418.1 1061.1L1419.5 1069.8L1420.9 1071.0L1422.3 1079.7L1423.7 1069.6L1425.1 1069.2L1426.5 1082.5L1427.9 1076.8L1429.3 1085.3L1430.7 1090.4L1432.1 1065.8L1433.5 1081.3L1434.9 1079.8L1436.3 1076.7L1437.7 1077.5L1439.1 1076.5L1440.5 1073.8L1441.9 1074.2L1443.3 1085.3L1444.7 1068.9L1446.1 1096.9L1447.5 1077.0L1448.9 1079.5L1450.3 1082.8L1451.7 1073.5L1453.1 1085.8L1454.5 1080.5L1455.9 1077.7L1457.3 1064.6L1458.7 1070.0L1460.1 1073.1L1461.5 1091.8L1462.9 1067.5L1464.3 1068.0L1465.7 1069.5L1467.1 1071.5L1468.5 1067.7L1469.9 1070.7L1471.3 1060.8L1472.7 1074.6L1474.1 1065.4L1475.5 1061.1L1476.9 1055.0L1478.3 1068.7L1479.7 1049.4L1481.1 1065.3L1482.5 1060.8L1483.9 1056.9L1485.3 1054.7L1486.7 1062.6L1488.1 1067.3L1489.5 1070.8L1490.9 1070.3L1492.3 1055.6L1493.7 1052.4L1495.1 1062.3L1496.5 1064.8L1497.9 1055.8L1499.3 1055.1L1500.7 1071.3L1502.1 1064.2L1503.5 1074.1L1504.9 1059.2L1506.3 1056.9L1507.7 1069.8L1509.1 1058.2L1510.5 1055.7L1511.9 1066.3L1513.3 1066.3L1514.7 1067.7L1516.1 1060.6L1517.5 1071.0L1518.9 1048.8L1520.3 1068.3L1521.7 1055.3L1523.1 1080.5L1524.5 1068.9L1525.9 1055.6L1527.3 1048.6L1528.7 1054.7L1530.1 1061.8L1531.5 1064.3L1532.9 1066.3L1534.3 1057.9L1535.7 1065.8L1537.1 1067.9L1538.5 1073.8L1539.9 1081.8L1541.3 1067.0L1542.7 1066.8L1544.1 1069.8L1545.5 1068.3L1546.9 1065.2L1548.3 1059.5L1549.7 1079.5L1551.1 1063.1L1552.5 1074.4L1553.9 1066.7L1555.3 1070.1L1556.7 1063.7L1558.1 1073.3L1559.5 1071.9L1560.9 1062.3L1562.3 1072.6L1563.7 1068.4L1565.1 1059.6L1566.5 1068.4L1567.9 1065.5L1569.3 1073.8L1570.7 1063.7L1572.1 1072.8L1573.5 1056.3L1574.9 1072.4L1576.3 1063.9L1577.7 1076.4L1579.1 1061.6L1580.5 1072.7L1581.9 1073.7L1583.3 1066.8L1584.7 1077.4L1586.1 1072.6L1587.5 1074.5L1588.9 1070.5L1590.3 1078.5L1591.7 1084.9L1593.1 1071.0L1594.5 1070.7L1595.9 1071.5L1597.3 1070.2L1598.7 1083.2L1600.1 1067.6L1601.5 1084.7L1602.9 1082.9L1604.3 1079.5L1605.7 1079.4L1607.1 1076.3L1608.5 1076.4L1609.9 1088.8L1611.3 1083.3L1612.7 1071.6L1614.1 1077.4L1615.5 1083.9L1616.9 1069.0L1618.3 1084.3L1619.7 1078.6L1621.1 1079.9L1622.5 1081.3L1623.9 1082.5L1625.3 1084.5L1626.7 1084.4L1628.1 1074.3L1629.5 1076.0L1630.9 1083.0L1632.3 1083.1L1633.7 1083.0L1635.1 1084.7L1636.5 1089.5L1637.9 1085.9L1639.3 1081.1L1640.7 1069.6L1642.1 1081.7L1643.5 1095.1L1644.9 1084.8L1646.3 1088.9L1647.7 1079.9L1649.1 1091.8L1650.5 1084.2L1651.9 1085.4L1653.3 1081.5L1654.7 1087.4L1656.1 1087.0L1657.5 1086.6L1658.9 1080.5L1660.3 1091.3L1661.7 1084.9L1663.1 1083.8L1664.5 1077.3L1665.9 1072.2L1667.3 1079.8L1668.7 1087.2L1670.1 1072.5L1671.5 1090.0L1672.9 1092.7L1674.3 1071.6L1675.7 1069.9L1677.1 1081.5L1678.5 1076.3L1679.9 1079.5L1681.3 1081.7L1682.7 1078.3L1684.1 1076.3L1685.5 1079.8L1686.9 1084.5L1688.3 1081.1L1689.7 1077.5L1691.1 1087.5L1692.5 1084.5L1693.9 1081.9L1695.3 1079.7L1696.7 1094.9L1698.1 1109.3L1699.5 1077.0L1700.9 1088.8L1702.3 1074.7L1703.7 1078.3L1705.1 1076.9L1706.5 1084.6L1707.9 1073.0L1709.3 1085.4L1710.7 1089.2L1712.1 1086.3L1713.5 1099.7L1714.9 1087.0L1716.3 1082.4L1717.7 1086.5L1719.1 1082.8L1720.5 1078.9L1721.9 1071.8L1723.3 1075.9L1724.7 1081.7L1726.1 1083.8L1727.5 1072.5L1728.9 1074.8L1730.3 1074.9L1731.7 1082.5L1733.1 1071.9L1734.5 1084.9L1735.9 1085.4L1737.3 1072.7L1738.7 1073.4L1740.1 1081.9L1741.5 1077.7L1742.9 1084.6L1744.3 1082.6L1745.7 1082.2L1747.1 1089.5L1748.5 1081.7L1749.9 1090.6L1751.3 1078.9L1752.7 1083.6L1754.1 1087.7L1755.5 1088.0L1756.9 1076.6L1758.3 1084.9L1759.7 1081.2L1761.1 1091.9L1762.5 1084.3L1763.9 1090.0L1765.3 1076.0L1766.7 1098.1L1768.1 1086.9L1769.5 1096.8L1770.9 1087.6L1772.3 1088.7L1773.7 1093.4L1775.1 1082.9L1776.5 1092.3L1777.9 1084.7L1779.3 1094.6L1780.7 1087.3L1782.1 1096.4L1783.5 1091.7L1784.9 1099.2L1786.3 1091.4L1787.7 1072.9L1789.1 1090.6L1790.5 1096.9L1791.9 1100.6L1793.3 1082.9L1794.7 1091.9L1796.1 1086.9L1797.5 1101.2L1798.9 1094.3L1800.3 1094.7L1801.7 1099.4L1803.1 1098.2L1804.5 1106.1L1805.9 1087.5L1807.3 1092.7L1808.7 1096.3L1810.1 1098.8L1811.5 1100.5L1812.9 1107.9L1814.3 1098.9L1815.7 1106.2L1817.1 1095.1L1818.5 1112.7L1819.9 1097.4L1821.3 1099.0L1822.7 1099.7L1824.1 1099.5L1825.5 1095.6L1826.9 1093.8L1828.3 1105.2L1829.7 1107.6L1831.1 1098.1L1832.5 1088.6L1833.9 1101.2L1835.3 1103.5L1836.7 1101.2L1838.1 1084.8L1839.5 1096.3L1840.9 1101.7L1842.3 1098.1L1843.7 1104.7L1845.1 1082.0L1846.5 1103.6L1847.9 1102.5L1849.3 1111.0L1850.7 1113.8L1852.1 1099.1L1853.5 1113.4L1854.9 1113.0L1856.3 1099.2L1857.7 1112.6L1859.1 1112.4L1860.5 1100.2L1861.9 1108.0L1863.3 1101.7L1864.7 1110.3L1866.1 1104.8L1867.5 1103.6L1868.9 1113.5L1870.3 1104.5L1871.7 1112.4L1873.1 1111.1L1874.5 1106.3L1875.9 1106.7L1877.3 1100.0L1878.7 1106.1L1880.1 1099.3L1881.5 1103.3L1882.9 1108.8L1884.3 1107.5L1885.7 1097.9L1887.1 1092.2L1888.5 1099.2L1889.9 1090.7L1891.3 1106.0L1892.7 1112.4L1894.1 1094.8L1895.5 1099.5L1896.9 1096.4L1898.3 1092.8L1899.7 1088.0L1901.1 1105.3L1902.5 1112.8L1903.9 1098.3L1905.3 1098.9L1906.7 1101.5L1908.1 1093.3L1909.5 1111.0L1910.9 1112.6L1912.3 1111.0L1913.7 1100.6L1915.1 1109.6L1916.5 1098.0L1917.9 1097.7L1919.3 1104.2L1920.7 1105.2L1922.1 1103.8L1923.5 1093.2L1924.9 1111.5L1926.3 1100.0L1927.7 1102.9L1929.1 1098.3L1930.5 1091.2L1931.9 1101.6L1933.3 1097.6L1934.7 1088.4L1936.1 1095.5L1937.5 1100.6L1938.9 1110.9L1940.3 1088.7L1941.7 1108.6L1943.1 1090.8L1944.5 1102.4L1945.9 1091.6L1947.3 1098.3L1948.7 1108.2L1950.1 1095.7L1951.5 1107.7L1952.9 1111.7L1954.3 1100.6L1955.7 1094.8L1957.1 1086.9L1958.5 1105.7L1959.9 1108.2L1961.3 1106.2L1962.7 1114.8L1964.1 1100.4L1965.5 1109.9L1966.9 1115.0L1968.3 1104.7L1969.7 1115.7L1971.1 1121.6L1972.5 1117.2L1973.9 1106.5L1975.3 1130.3L1976.7 1124.6L1978.1 1117.5L1979.5 1108.2L1980.9 1113.7L1982.3 1105.4L1983.7 1113.1L1985.1 1116.3L1986.5 1104.5L1987.9 1118.4L1989.3 1118.0L1990.7 1122.9L1992.1 1111.8L1993.5 1111.1L1994.9 1110.7L1996.3 1110.9L1997.7 1118.9L1999.1 1116.3L2000.5 1110.3L2001.9 1117.2L2003.3 1115.1L2004.7 1117.6L2006.1 1119.9L2007.5 1106.3L2008.9 1110.8L2010.3 1127.8L2011.7 1115.8L2013.1 1115.9L2014.5 1109.6L2015.9 1125.5L2017.3 1120.9L2018.7 1120.5L2020.1 1107.3L2021.5 1106.2L2022.9 1116.3L2024.3 1111.0L2025.7 1114.5L2027.1 1113.0L2028.5 1131.1L2029.9 1108.4L2031.3 1114.9L2032.7 1117.6L2034.1 1115.1L2035.5 1126.3L2036.9 1113.3L2038.3 1121.9L2039.7 1119.2L2041.1 1122.2L2042.5 1120.7L2043.9 1131.4L2045.3 1114.9L2046.7 1130.3L2048.1 1135.8L2049.5 1125.3L2050.9 1124.6L2052.3 1123.5L2053.7 1119.3L2055.1 1129.6L2056.5 1119.3L2057.9 1121.6L2059.3 1117.6L2060.7 1129.2L2062.1 1114.1L2063.5 1122.5L2064.9 1137.2L2066.3 1113.4L2067.7 1115.2L2069.1 1113.7L2070.5 1124.7L2071.9 1128.2L2073.3 1121.1L2074.7 1130.9L2076.1 1110.5L2077.5 1120.1L2078.9 1117.4L2080.3 1124.3L2081.7 1107.4L2083.1 1118.3L2084.5 1121.4L2085.9 1125.7L2087.3 1121.3L2088.7 1112.7L2090.1 1118.9L2091.5 1104.2L2092.9 1115.4L2094.3 1105.6L2095.7 1134.2L2097.1 1115.0L2098.5 1115.4L2099.9 1118.8L2101.3 1116.5L2102.7 1120.8L2104.1 1104.9L2105.5 1102.6L2106.9 1113.8L2108.3 1121.5L2109.7 1119.1L2111.1 1111.1L2112.5 1121.7L2113.9 1108.0L2115.3 1109.8L2116.7 1096.8L2118.1 1107.5L2119.5 1095.0L2120.9 1110.8L2122.3 1117.8L2123.7 1112.4L2125.1 1114.7L2126.5 1114.0L2127.9 1100.0L2129.3 1119.0L2130.7 1116.5L2132.1 1119.1L2133.5 1117.5L2134.9 1125.4L2136.3 1113.6L2137.7 1119.1L2139.1 1102.8L2140.5 1119.7L2141.9 1101.1L2143.3 1119.6L2144.7 1121.9L2146.1 1120.2" fill="none" stroke="#D95319" stroke-width="2.7" stroke-linejoin="round"/>
<rect x="183.3" y="84.3" width="75.6" height="1134.2" fill="none" stroke="#ED1C24" stroke-width="5.6"/>
<line x1="260" y1="439.3" x2="1110.8" y2="372.4" stroke="#ED1C24" stroke-width="5.6"/>
<line x1="289" y1="76.5" x2="364" y2="76.5" stroke="#0072BD" stroke-width="2.7" stroke-opacity="0.92"/>
<line x1="289" y1="132" x2="364" y2="132" stroke="#D95319" stroke-width="2.7" stroke-opacity="0.92"/>
<g filter="url(#soft)">
<text transform="translate(369.3,95.2) scale(0.991,1)" font-size="40.6" text-anchor="start" style="fill:#111">Reconstructed waveform</text>
<text transform="translate(369.3,149.0) scale(0.991,1)" font-size="40.6" text-anchor="start" style="fill:#111">Pellegrini target waveform</text>
<text transform="translate(122.4,1307.1) scale(0.875,1)" font-size="49.6" text-anchor="end">-2</text>
<text transform="translate(122.4,1167.9) scale(0.875,1)" font-size="49.6" text-anchor="end">0</text>
<text transform="translate(122.4,1028.7) scale(0.875,1)" font-size="49.6" text-anchor="end">2</text>
<text transform="translate(122.4,889.6) scale(0.875,1)" font-size="49.6" text-anchor="end">4</text>
<text transform="translate(122.4,750.4) scale(0.875,1)" font-size="49.6" text-anchor="end">6</text>
<text transform="translate(122.4,611.3) scale(0.875,1)" font-size="49.6" text-anchor="end">8</text>
<text transform="translate(122.4,472.1) scale(0.875,1)" font-size="49.6" text-anchor="end">10</text>
<text transform="translate(122.4,332.9) scale(0.875,1)" font-size="49.6" text-anchor="end">12</text>
<text transform="translate(122.4,194.8) scale(0.875,1)" font-size="49.6" text-anchor="end">14</text>
<text transform="translate(122.4,54.6) scale(0.875,1)" font-size="49.6" text-anchor="end">16</text>
<text transform="translate(186.4,1352.3) scale(0.895,1)" font-size="49.0" text-anchor="middle">0</text>
<text transform="translate(815.2,1352.3) scale(0.895,1)" font-size="49.0" text-anchor="middle">50</text>
<text transform="translate(1444.0,1352.3) scale(0.895,1)" font-size="49.0" text-anchor="middle">100</text>
<text transform="translate(2072.7,1352.3) scale(0.895,1)" font-size="49.0" text-anchor="middle">150</text>
<text transform="translate(1142.5,1421.0) scale(0.980,1)" font-size="51.5" text-anchor="middle">Time (ns)</text>
<text transform="translate(54.2,661.2) rotate(-90) scale(1.054,1)" font-size="49.8" text-anchor="middle">Current (A)</text>
</g>
<g filter="url(#soft)">
<rect x="1114.5" y="51.5" width="1018.5" height="664.2" fill="#fff"/>
<g stroke="#dedede" stroke-width="1.5"><line x1="1172.7" y1="293.5" x2="2115.3" y2="293.5"/><line x1="1172.7" y1="363.0" x2="2115.3" y2="363.0"/><line x1="1172.7" y1="432.5" x2="2115.3" y2="432.5"/><line x1="1242.0" y1="52.3" x2="1242.0" y2="641.0"/><line x1="1504.0" y1="52.3" x2="1504.0" y2="641.0"/><line x1="1591.4" y1="52.3" x2="1591.4" y2="641.0"/><line x1="1766.1" y1="52.3" x2="1766.1" y2="641.0"/><line x1="1853.4" y1="52.3" x2="1853.4" y2="641.0"/><line x1="2028.2" y1="52.3" x2="2028.2" y2="641.0"/></g>
<g stroke="#222" stroke-width="1.9"><line x1="1172.7" y1="293.5" x2="1182.7" y2="293.5"/><line x1="2115.3" y1="293.5" x2="2105.3" y2="293.5"/><line x1="1172.7" y1="363.0" x2="1182.7" y2="363.0"/><line x1="2115.3" y1="363.0" x2="2105.3" y2="363.0"/><line x1="1172.7" y1="432.5" x2="1182.7" y2="432.5"/><line x1="2115.3" y1="432.5" x2="2105.3" y2="432.5"/><line x1="1242.0" y1="52.3" x2="1242.0" y2="58.3"/><line x1="1242.0" y1="641.0" x2="1242.0" y2="631.0"/><line x1="1504.0" y1="52.3" x2="1504.0" y2="58.3"/><line x1="1504.0" y1="641.0" x2="1504.0" y2="631.0"/><line x1="1591.4" y1="52.3" x2="1591.4" y2="58.3"/><line x1="1591.4" y1="641.0" x2="1591.4" y2="631.0"/><line x1="1766.1" y1="52.3" x2="1766.1" y2="58.3"/><line x1="1766.1" y1="641.0" x2="1766.1" y2="631.0"/><line x1="1853.4" y1="52.3" x2="1853.4" y2="58.3"/><line x1="1853.4" y1="641.0" x2="1853.4" y2="631.0"/><line x1="2028.2" y1="52.3" x2="2028.2" y2="58.3"/><line x1="2028.2" y1="641.0" x2="2028.2" y2="631.0"/></g>
<line x1="1172.7" y1="52.3" x2="1172.7" y2="641.0" stroke="#505050" stroke-width="3"/>
<line x1="2113.9" y1="52.3" x2="2113.9" y2="641.0" stroke="#c4c4c4" stroke-width="1.5"/>
<line x1="2115.8" y1="52.3" x2="2115.8" y2="641.0" stroke="#484848" stroke-width="2.3"/>
<text transform="translate(1165.4,651.2) scale(0.935,1)" font-size="23.4" text-anchor="end" style="fill:#2c2c2c">-2</text>
<text transform="translate(1165.4,581.7) scale(0.935,1)" font-size="23.4" text-anchor="end" style="fill:#2c2c2c">0</text>
<text transform="translate(1165.4,512.2) scale(0.935,1)" font-size="23.4" text-anchor="end" style="fill:#2c2c2c">2</text>
<text transform="translate(1165.4,442.7) scale(0.935,1)" font-size="23.4" text-anchor="end" style="fill:#2c2c2c">4</text>
<text transform="translate(1165.4,373.2) scale(0.935,1)" font-size="23.4" text-anchor="end" style="fill:#2c2c2c">6</text>
<text transform="translate(1165.4,303.7) scale(0.935,1)" font-size="23.4" text-anchor="end" style="fill:#2c2c2c">8</text>
<text transform="translate(1165.4,234.2) scale(0.935,1)" font-size="23.4" text-anchor="end" style="fill:#2c2c2c">10</text>
<text transform="translate(1165.4,164.7) scale(0.935,1)" font-size="23.4" text-anchor="end" style="fill:#2c2c2c">12</text>
<text transform="translate(1165.4,95.2) scale(0.935,1)" font-size="23.4" text-anchor="end" style="fill:#2c2c2c">14</text>
<text transform="translate(1242.0,671.2) scale(0.935,1)" font-size="23.4" text-anchor="middle" style="fill:#2c2c2c">0.5</text>
<text transform="translate(1329.3,671.2) scale(0.935,1)" font-size="23.4" text-anchor="middle" style="fill:#2c2c2c">1</text>
<text transform="translate(1416.7,671.2) scale(0.935,1)" font-size="23.4" text-anchor="middle" style="fill:#2c2c2c">1.5</text>
<text transform="translate(1504.0,671.2) scale(0.935,1)" font-size="23.4" text-anchor="middle" style="fill:#2c2c2c">2</text>
<text transform="translate(1591.4,671.2) scale(0.935,1)" font-size="23.4" text-anchor="middle" style="fill:#2c2c2c">2.5</text>
<text transform="translate(1678.8,671.2) scale(0.935,1)" font-size="23.4" text-anchor="middle" style="fill:#2c2c2c">3</text>
<text transform="translate(1766.1,671.2) scale(0.935,1)" font-size="23.4" text-anchor="middle" style="fill:#2c2c2c">3.5</text>
<text transform="translate(1853.4,671.2) scale(0.935,1)" font-size="23.4" text-anchor="middle" style="fill:#2c2c2c">4</text>
<text transform="translate(1940.8,671.2) scale(0.935,1)" font-size="23.4" text-anchor="middle" style="fill:#2c2c2c">4.5</text>
<text transform="translate(2028.2,671.2) scale(0.935,1)" font-size="23.4" text-anchor="middle" style="fill:#2c2c2c">5</text>
<text transform="translate(2115.5,671.2) scale(0.935,1)" font-size="23.4" text-anchor="middle" style="fill:#2c2c2c">5.5</text>
<text transform="translate(1643.7,703.6) scale(0.956,1)" font-size="24.6" text-anchor="middle" style="fill:#2c2c2c">Time (ns)</text>
<text transform="translate(1134.3,345.1) rotate(-90) scale(1.010,1)" font-size="24.7" text-anchor="middle" style="fill:#2c2c2c">Current (A)</text>
</g>
<g fill="none" stroke-linecap="butt">
<path id="ib" d="M1173.7 576.8C1175.9 576.8 1182.2 576.5 1186.7 576.8C1191.3 577.1 1195.3 578.6 1201.1 578.7C1207.0 578.8 1214.9 577.5 1221.7 577.2C1228.5 577.0 1237.1 577.5 1241.9 577.2C1246.6 577.0 1247.0 575.6 1250.5 575.8C1254.0 576.0 1258.7 577.2 1262.8 578.3C1266.9 579.4 1271.1 582.3 1275.2 582.4C1279.3 582.5 1281.5 579.4 1287.5 578.7C1293.5 578.0 1306.4 578.9 1311.2 578.3C1316.0 577.7 1313.4 578.6 1316.3 575.2C1319.2 571.8 1323.8 563.4 1328.6 557.7C1333.4 552.1 1340.3 546.7 1345.1 541.3C1349.9 535.8 1352.6 532.2 1357.4 524.8C1362.2 517.4 1369.1 505.6 1373.9 497.0C1378.7 488.5 1381.8 483.5 1386.2 473.4C1390.7 463.3 1395.8 449.1 1400.6 436.4C1405.4 423.7 1410.6 409.3 1415.0 397.3C1419.5 385.3 1424.6 372.4 1427.4 364.4C1430.1 356.4 1429.2 356.4 1431.8 349.2C1434.4 342.1 1439.5 330.9 1443.1 321.5C1446.7 312.0 1450.7 300.9 1453.4 292.7C1456.1 284.4 1457.5 279.0 1459.6 272.1C1461.6 265.3 1463.3 258.7 1465.7 251.5C1468.1 244.3 1471.2 235.8 1474.0 228.9C1476.7 222.1 1479.4 216.6 1482.2 210.4C1484.9 204.2 1487.3 198.4 1490.4 191.9C1493.5 185.4 1497.6 176.5 1500.7 171.3C1503.8 166.2 1505.8 164.8 1508.9 161.1C1512.0 157.3 1515.6 153.2 1519.2 148.7C1522.8 144.3 1527.1 139.8 1530.5 134.3C1533.9 128.8 1536.9 121.1 1539.8 115.8C1542.7 110.5 1545.1 106.0 1548.0 102.4C1550.9 98.8 1554.5 95.2 1557.2 94.2C1560.0 93.2 1561.5 94.9 1564.4 96.3C1567.4 97.6 1571.0 99.7 1574.7 102.4C1578.5 105.2 1583.3 109.5 1587.1 112.7C1590.8 116.0 1594.3 119.2 1597.4 122.0C1600.4 124.7 1602.5 127.4 1605.6 129.2C1608.7 131.0 1612.8 131.5 1615.9 132.7C1618.9 133.9 1621.5 134.2 1624.1 136.4C1626.7 138.5 1629.2 141.5 1631.3 145.6C1633.3 149.7 1634.2 154.0 1636.4 161.1C1638.7 168.1 1641.9 179.6 1644.7 187.8C1647.4 196.0 1649.8 202.2 1652.9 210.4C1656.0 218.6 1659.0 226.9 1663.2 237.1C1667.3 247.4 1673.1 262.2 1677.6 272.1C1682.0 282.0 1685.8 288.6 1689.9 296.8C1694.0 305.0 1698.1 312.7 1702.2 321.5C1706.3 330.2 1710.6 340.9 1714.6 349.2C1718.6 357.5 1722.4 364.8 1726.4 371.3C1730.4 377.7 1734.3 382.6 1738.7 387.7C1743.2 392.9 1748.7 398.0 1753.1 402.1C1757.6 406.2 1762.0 410.2 1765.4 412.4C1768.9 414.6 1770.6 414.8 1773.7 415.1C1776.8 415.3 1780.2 415.5 1784.0 414.0C1787.7 412.6 1792.2 409.0 1796.3 406.2C1800.4 403.5 1804.5 399.7 1808.6 397.6C1812.8 395.5 1817.2 394.5 1821.0 393.5C1824.7 392.4 1827.8 392.7 1831.3 391.4C1834.7 390.1 1837.8 389.0 1841.5 385.7C1845.3 382.3 1850.1 375.5 1853.9 371.3C1857.7 367.0 1860.4 363.7 1864.2 359.9C1867.9 356.2 1872.4 352.4 1876.5 348.6C1880.6 344.9 1884.4 341.8 1888.8 337.3C1893.3 332.9 1898.4 327.6 1903.2 321.9C1908.0 316.2 1913.9 308.9 1917.6 303.4C1921.4 297.9 1922.4 293.7 1925.9 289.0C1929.3 284.3 1935.8 277.4 1938.2 275.0C1940.6 272.6 1938.4 274.9 1940.0 274.5C1941.6 274.0 1945.5 273.2 1947.9 272.5C1950.4 271.9 1952.6 271.2 1954.7 270.5C1956.8 269.8 1958.5 269.5 1960.4 268.2C1962.2 267.0 1963.9 265.2 1966.0 263.1C1968.1 261.1 1970.5 258.4 1972.8 255.8C1975.1 253.2 1977.1 249.9 1979.6 247.3C1982.0 244.8 1985.1 242.0 1987.5 240.5C1990.0 239.0 1991.8 238.4 1994.3 238.5C1996.7 238.5 1999.8 240.0 2002.2 240.7C2004.7 241.5 2006.9 242.3 2009.0 242.8C2011.1 243.3 2012.6 244.0 2014.7 243.9C2016.7 243.9 2019.2 243.0 2021.4 242.4C2023.7 241.9 2024.8 241.1 2028.2 240.7C2031.6 240.4 2036.9 240.5 2041.8 240.5C2046.7 240.5 2054.1 240.4 2057.6 240.7C2061.2 241.1 2061.2 241.9 2063.3 242.8C2065.4 243.7 2067.5 244.9 2070.1 246.2C2072.7 247.5 2076.3 249.6 2079.1 250.7C2082.0 251.8 2084.8 252.3 2087.1 252.6C2089.3 252.9 2090.8 252.7 2092.7 252.4C2094.6 252.1 2094.6 250.9 2098.4 250.7C2102.1 250.5 2112.5 250.9 2115.3 250.9" stroke="#0072BD" stroke-width="2.5" stroke-opacity="0.36"/>
<path d="M1173.7 576.8C1175.9 576.8 1182.2 576.5 1186.7 576.8C1191.3 577.1 1195.3 578.6 1201.1 578.7C1207.0 578.8 1214.9 577.5 1221.7 577.2C1228.5 577.0 1237.1 577.5 1241.9 577.2C1246.6 577.0 1247.0 575.6 1250.5 575.8C1254.0 576.0 1258.7 577.2 1262.8 578.3C1266.9 579.4 1271.1 582.3 1275.2 582.4C1279.3 582.5 1281.5 579.4 1287.5 578.7C1293.5 578.0 1306.4 578.9 1311.2 578.3C1316.0 577.7 1313.4 578.6 1316.3 575.2C1319.2 571.8 1323.8 563.4 1328.6 557.7C1333.4 552.1 1340.3 546.7 1345.1 541.3C1349.9 535.8 1352.6 532.2 1357.4 524.8C1362.2 517.4 1369.1 505.6 1373.9 497.0C1378.7 488.5 1381.8 483.5 1386.2 473.4C1390.7 463.3 1395.8 449.1 1400.6 436.4C1405.4 423.7 1410.6 409.3 1415.0 397.3C1419.5 385.3 1424.6 372.4 1427.4 364.4C1430.1 356.4 1429.2 356.4 1431.8 349.2C1434.4 342.1 1439.5 330.9 1443.1 321.5C1446.7 312.0 1450.7 300.9 1453.4 292.7C1456.1 284.4 1457.5 279.0 1459.6 272.1C1461.6 265.3 1463.3 258.7 1465.7 251.5C1468.1 244.3 1471.2 235.8 1474.0 228.9C1476.7 222.1 1479.4 216.6 1482.2 210.4C1484.9 204.2 1487.3 198.4 1490.4 191.9C1493.5 185.4 1497.6 176.5 1500.7 171.3C1503.8 166.2 1505.8 164.8 1508.9 161.1C1512.0 157.3 1515.6 153.2 1519.2 148.7C1522.8 144.3 1527.1 139.8 1530.5 134.3C1533.9 128.8 1536.9 121.1 1539.8 115.8C1542.7 110.5 1545.1 106.0 1548.0 102.4C1550.9 98.8 1554.5 95.2 1557.2 94.2C1560.0 93.2 1561.5 94.9 1564.4 96.3C1567.4 97.6 1571.0 99.7 1574.7 102.4C1578.5 105.2 1583.3 109.5 1587.1 112.7C1590.8 116.0 1594.3 119.2 1597.4 122.0C1600.4 124.7 1602.5 127.4 1605.6 129.2C1608.7 131.0 1612.8 131.5 1615.9 132.7C1618.9 133.9 1621.5 134.2 1624.1 136.4C1626.7 138.5 1629.2 141.5 1631.3 145.6C1633.3 149.7 1634.2 154.0 1636.4 161.1C1638.7 168.1 1641.9 179.6 1644.7 187.8C1647.4 196.0 1649.8 202.2 1652.9 210.4C1656.0 218.6 1659.0 226.9 1663.2 237.1C1667.3 247.4 1673.1 262.2 1677.6 272.1C1682.0 282.0 1685.8 288.6 1689.9 296.8C1694.0 305.0 1698.1 312.7 1702.2 321.5C1706.3 330.2 1710.6 340.9 1714.6 349.2C1718.6 357.5 1722.4 364.8 1726.4 371.3C1730.4 377.7 1734.3 382.6 1738.7 387.7C1743.2 392.9 1748.7 398.0 1753.1 402.1C1757.6 406.2 1762.0 410.2 1765.4 412.4C1768.9 414.6 1770.6 414.8 1773.7 415.1C1776.8 415.3 1780.2 415.5 1784.0 414.0C1787.7 412.6 1792.2 409.0 1796.3 406.2C1800.4 403.5 1804.5 399.7 1808.6 397.6C1812.8 395.5 1817.2 394.5 1821.0 393.5C1824.7 392.4 1827.8 392.7 1831.3 391.4C1834.7 390.1 1837.8 389.0 1841.5 385.7C1845.3 382.3 1850.1 375.5 1853.9 371.3C1857.7 367.0 1860.4 363.7 1864.2 359.9C1867.9 356.2 1872.4 352.4 1876.5 348.6C1880.6 344.9 1884.4 341.8 1888.8 337.3C1893.3 332.9 1898.4 327.6 1903.2 321.9C1908.0 316.2 1913.9 308.9 1917.6 303.4C1921.4 297.9 1922.4 293.7 1925.9 289.0C1929.3 284.3 1935.8 277.4 1938.2 275.0C1940.6 272.6 1938.4 274.9 1940.0 274.5C1941.6 274.0 1945.5 273.2 1947.9 272.5C1950.4 271.9 1952.6 271.2 1954.7 270.5C1956.8 269.8 1958.5 269.5 1960.4 268.2C1962.2 267.0 1963.9 265.2 1966.0 263.1C1968.1 261.1 1970.5 258.4 1972.8 255.8C1975.1 253.2 1977.1 249.9 1979.6 247.3C1982.0 244.8 1985.1 242.0 1987.5 240.5C1990.0 239.0 1991.8 238.4 1994.3 238.5C1996.7 238.5 1999.8 240.0 2002.2 240.7C2004.7 241.5 2006.9 242.3 2009.0 242.8C2011.1 243.3 2012.6 244.0 2014.7 243.9C2016.7 243.9 2019.2 243.0 2021.4 242.4C2023.7 241.9 2024.8 241.1 2028.2 240.7C2031.6 240.4 2036.9 240.5 2041.8 240.5C2046.7 240.5 2054.1 240.4 2057.6 240.7C2061.2 241.1 2061.2 241.9 2063.3 242.8C2065.4 243.7 2067.5 244.9 2070.1 246.2C2072.7 247.5 2076.3 249.6 2079.1 250.7C2082.0 251.8 2084.8 252.3 2087.1 252.6C2089.3 252.9 2090.8 252.7 2092.7 252.4C2094.6 252.1 2094.6 250.9 2098.4 250.7C2102.1 250.5 2112.5 250.9 2115.3 250.9" stroke="#0072BD" stroke-width="1.5" stroke-opacity="0.62" stroke-dasharray="3.8 2.4"/>
<path id="io" d="M1173.7 580.7C1174.8 580.6 1177.7 580.8 1180.6 579.9C1183.4 579.0 1187.2 577.1 1190.8 575.2C1194.4 573.3 1198.7 569.0 1202.2 568.4C1205.6 567.8 1208.5 570.6 1211.4 571.7C1214.3 572.8 1216.6 574.3 1219.6 575.2C1222.7 576.0 1226.2 576.3 1229.9 576.8C1233.6 577.4 1238.1 578.2 1241.9 578.3C1245.6 578.3 1249.0 577.6 1252.5 577.2C1256.0 576.9 1259.4 576.8 1262.8 576.2C1266.3 575.6 1270.0 575.0 1273.1 573.8C1276.2 572.6 1278.8 571.2 1281.3 569.0C1283.9 566.9 1286.3 564.4 1288.5 560.8C1290.8 557.2 1292.6 552.4 1294.7 547.4C1296.8 542.5 1298.6 536.6 1300.9 531.0C1303.1 525.3 1305.7 518.8 1308.1 513.5C1310.5 508.2 1312.9 502.9 1315.3 499.1C1317.7 495.3 1320.2 494.1 1322.5 490.9C1324.7 487.6 1326.6 484.5 1328.6 479.6C1330.7 474.6 1332.8 467.9 1334.8 461.1C1336.9 454.2 1339.3 445.6 1341.0 438.4C1342.7 431.2 1343.7 424.4 1345.1 417.9C1346.5 411.4 1347.7 405.5 1349.2 399.4C1350.7 393.2 1352.8 386.7 1354.3 380.8C1355.9 375.0 1356.7 369.7 1358.5 364.4C1360.2 359.1 1361.8 355.0 1365.0 349.2C1368.1 343.4 1373.5 336.0 1377.3 329.7C1381.1 323.4 1384.8 317.0 1387.6 311.2C1390.3 305.4 1391.2 299.7 1393.8 294.7C1396.3 289.8 1399.4 285.8 1403.0 281.4C1406.6 276.9 1411.9 272.6 1415.3 268.0C1418.8 263.4 1421.2 258.4 1423.6 253.6C1426.0 248.8 1427.9 245.0 1429.7 239.2C1431.6 233.4 1432.8 226.9 1434.9 218.6C1436.9 210.4 1440.0 198.8 1442.1 189.8C1444.1 180.9 1445.3 173.7 1447.2 165.2C1449.1 156.6 1451.3 147.3 1453.4 138.4C1455.4 129.5 1457.3 119.6 1459.6 111.7C1461.8 103.8 1464.4 96.8 1466.8 91.1C1469.2 85.5 1470.9 81.3 1474.0 77.8C1477.0 74.3 1481.8 70.5 1485.3 70.2C1488.7 69.8 1492.0 72.9 1494.5 75.7C1497.1 78.5 1498.8 83.1 1500.7 87.0C1502.6 91.0 1504.1 95.9 1505.8 99.4C1507.5 102.8 1509.1 105.5 1511.0 107.6C1512.9 109.6 1514.9 111.9 1517.1 111.7C1519.4 111.5 1522.1 109.5 1524.3 106.6C1526.6 103.6 1528.3 98.5 1530.5 94.2C1532.7 89.9 1535.1 85.5 1537.7 80.8C1540.3 76.2 1543.2 70.2 1545.9 66.5C1548.7 62.8 1551.4 59.0 1554.2 58.6C1556.9 58.3 1559.8 61.0 1562.4 64.4C1565.0 67.8 1567.5 72.6 1569.6 78.8C1571.6 85.0 1573.0 93.5 1574.7 101.4C1576.4 109.3 1578.2 118.6 1579.9 126.1C1581.6 133.6 1583.3 139.8 1585.0 146.7C1586.7 153.5 1588.4 160.4 1590.2 167.2C1591.9 174.1 1593.1 179.9 1595.3 187.8C1597.5 195.7 1600.1 205.6 1603.5 214.5C1606.9 223.4 1611.2 232.0 1615.9 241.3C1620.5 250.5 1625.5 261.5 1631.3 270.1C1637.1 278.6 1644.8 284.4 1650.8 292.7C1656.8 300.9 1660.8 310.0 1667.3 319.4C1673.8 328.8 1684.8 342.1 1689.9 349.2C1694.9 356.3 1694.9 357.6 1697.6 362.0C1700.2 366.4 1703.1 371.6 1705.8 375.4C1708.6 379.1 1711.3 382.1 1714.0 384.6C1716.8 387.2 1719.9 389.9 1722.3 390.8C1724.7 391.7 1726.0 391.2 1728.4 390.2C1730.8 389.2 1733.6 386.5 1736.7 384.6C1739.7 382.7 1743.5 379.8 1746.9 378.9C1750.4 377.9 1753.8 378.6 1757.2 379.1C1760.7 379.5 1764.6 381.2 1767.5 381.5C1770.4 381.9 1772.3 382.2 1774.7 381.1C1777.1 380.1 1779.3 378.4 1781.9 375.4C1784.5 372.4 1787.4 366.6 1790.1 363.0C1792.9 359.4 1794.6 357.2 1798.4 353.8C1802.1 350.4 1808.3 346.8 1812.8 342.5C1817.2 338.2 1821.7 331.7 1825.1 328.1C1828.5 324.5 1830.2 323.1 1833.3 320.9C1836.4 318.6 1840.0 317.4 1843.6 314.7C1847.2 312.0 1851.5 308.0 1854.9 304.4C1858.3 300.8 1860.2 297.4 1864.2 293.1C1868.1 288.8 1873.8 283.0 1878.6 278.7C1883.4 274.4 1888.2 270.8 1893.0 267.4C1897.8 264.0 1902.2 260.4 1907.4 258.1C1912.5 255.9 1918.7 255.3 1923.8 253.6C1928.9 251.9 1935.5 249.0 1938.2 247.9C1940.9 246.7 1938.2 247.3 1940.0 246.7C1941.8 246.2 1945.8 245.2 1949.0 244.5C1952.3 243.8 1955.8 243.1 1959.2 242.4C1962.6 241.8 1966.2 241.2 1969.4 240.5C1972.6 239.9 1975.8 239.2 1978.5 238.5C1981.1 237.8 1982.6 237.0 1985.2 236.3C1987.9 235.7 1991.7 234.8 1994.3 234.6C1996.9 234.4 1998.8 234.8 2001.1 235.1C2003.3 235.4 2005.2 236.0 2007.9 236.6C2010.5 237.1 2013.5 238.1 2016.9 238.5C2020.3 238.9 2021.3 238.8 2028.2 238.8C2035.2 238.8 2052.6 238.3 2058.8 238.6C2065.0 238.9 2063.3 239.8 2065.6 240.5C2067.8 241.2 2069.9 241.7 2072.4 242.8C2074.8 243.8 2077.8 245.8 2080.3 246.7C2082.7 247.7 2084.0 248.0 2087.1 248.7C2090.1 249.3 2093.7 250.3 2098.4 250.7C2103.1 251.1 2112.5 250.9 2115.3 250.9" stroke="#D95319" stroke-width="2.5" stroke-opacity="0.36"/>
<path d="M1173.7 580.7C1174.8 580.6 1177.7 580.8 1180.6 579.9C1183.4 579.0 1187.2 577.1 1190.8 575.2C1194.4 573.3 1198.7 569.0 1202.2 568.4C1205.6 567.8 1208.5 570.6 1211.4 571.7C1214.3 572.8 1216.6 574.3 1219.6 575.2C1222.7 576.0 1226.2 576.3 1229.9 576.8C1233.6 577.4 1238.1 578.2 1241.9 578.3C1245.6 578.3 1249.0 577.6 1252.5 577.2C1256.0 576.9 1259.4 576.8 1262.8 576.2C1266.3 575.6 1270.0 575.0 1273.1 573.8C1276.2 572.6 1278.8 571.2 1281.3 569.0C1283.9 566.9 1286.3 564.4 1288.5 560.8C1290.8 557.2 1292.6 552.4 1294.7 547.4C1296.8 542.5 1298.6 536.6 1300.9 531.0C1303.1 525.3 1305.7 518.8 1308.1 513.5C1310.5 508.2 1312.9 502.9 1315.3 499.1C1317.7 495.3 1320.2 494.1 1322.5 490.9C1324.7 487.6 1326.6 484.5 1328.6 479.6C1330.7 474.6 1332.8 467.9 1334.8 461.1C1336.9 454.2 1339.3 445.6 1341.0 438.4C1342.7 431.2 1343.7 424.4 1345.1 417.9C1346.5 411.4 1347.7 405.5 1349.2 399.4C1350.7 393.2 1352.8 386.7 1354.3 380.8C1355.9 375.0 1356.7 369.7 1358.5 364.4C1360.2 359.1 1361.8 355.0 1365.0 349.2C1368.1 343.4 1373.5 336.0 1377.3 329.7C1381.1 323.4 1384.8 317.0 1387.6 311.2C1390.3 305.4 1391.2 299.7 1393.8 294.7C1396.3 289.8 1399.4 285.8 1403.0 281.4C1406.6 276.9 1411.9 272.6 1415.3 268.0C1418.8 263.4 1421.2 258.4 1423.6 253.6C1426.0 248.8 1427.9 245.0 1429.7 239.2C1431.6 233.4 1432.8 226.9 1434.9 218.6C1436.9 210.4 1440.0 198.8 1442.1 189.8C1444.1 180.9 1445.3 173.7 1447.2 165.2C1449.1 156.6 1451.3 147.3 1453.4 138.4C1455.4 129.5 1457.3 119.6 1459.6 111.7C1461.8 103.8 1464.4 96.8 1466.8 91.1C1469.2 85.5 1470.9 81.3 1474.0 77.8C1477.0 74.3 1481.8 70.5 1485.3 70.2C1488.7 69.8 1492.0 72.9 1494.5 75.7C1497.1 78.5 1498.8 83.1 1500.7 87.0C1502.6 91.0 1504.1 95.9 1505.8 99.4C1507.5 102.8 1509.1 105.5 1511.0 107.6C1512.9 109.6 1514.9 111.9 1517.1 111.7C1519.4 111.5 1522.1 109.5 1524.3 106.6C1526.6 103.6 1528.3 98.5 1530.5 94.2C1532.7 89.9 1535.1 85.5 1537.7 80.8C1540.3 76.2 1543.2 70.2 1545.9 66.5C1548.7 62.8 1551.4 59.0 1554.2 58.6C1556.9 58.3 1559.8 61.0 1562.4 64.4C1565.0 67.8 1567.5 72.6 1569.6 78.8C1571.6 85.0 1573.0 93.5 1574.7 101.4C1576.4 109.3 1578.2 118.6 1579.9 126.1C1581.6 133.6 1583.3 139.8 1585.0 146.7C1586.7 153.5 1588.4 160.4 1590.2 167.2C1591.9 174.1 1593.1 179.9 1595.3 187.8C1597.5 195.7 1600.1 205.6 1603.5 214.5C1606.9 223.4 1611.2 232.0 1615.9 241.3C1620.5 250.5 1625.5 261.5 1631.3 270.1C1637.1 278.6 1644.8 284.4 1650.8 292.7C1656.8 300.9 1660.8 310.0 1667.3 319.4C1673.8 328.8 1684.8 342.1 1689.9 349.2C1694.9 356.3 1694.9 357.6 1697.6 362.0C1700.2 366.4 1703.1 371.6 1705.8 375.4C1708.6 379.1 1711.3 382.1 1714.0 384.6C1716.8 387.2 1719.9 389.9 1722.3 390.8C1724.7 391.7 1726.0 391.2 1728.4 390.2C1730.8 389.2 1733.6 386.5 1736.7 384.6C1739.7 382.7 1743.5 379.8 1746.9 378.9C1750.4 377.9 1753.8 378.6 1757.2 379.1C1760.7 379.5 1764.6 381.2 1767.5 381.5C1770.4 381.9 1772.3 382.2 1774.7 381.1C1777.1 380.1 1779.3 378.4 1781.9 375.4C1784.5 372.4 1787.4 366.6 1790.1 363.0C1792.9 359.4 1794.6 357.2 1798.4 353.8C1802.1 350.4 1808.3 346.8 1812.8 342.5C1817.2 338.2 1821.7 331.7 1825.1 328.1C1828.5 324.5 1830.2 323.1 1833.3 320.9C1836.4 318.6 1840.0 317.4 1843.6 314.7C1847.2 312.0 1851.5 308.0 1854.9 304.4C1858.3 300.8 1860.2 297.4 1864.2 293.1C1868.1 288.8 1873.8 283.0 1878.6 278.7C1883.4 274.4 1888.2 270.8 1893.0 267.4C1897.8 264.0 1902.2 260.4 1907.4 258.1C1912.5 255.9 1918.7 255.3 1923.8 253.6C1928.9 251.9 1935.5 249.0 1938.2 247.9C1940.9 246.7 1938.2 247.3 1940.0 246.7C1941.8 246.2 1945.8 245.2 1949.0 244.5C1952.3 243.8 1955.8 243.1 1959.2 242.4C1962.6 241.8 1966.2 241.2 1969.4 240.5C1972.6 239.9 1975.8 239.2 1978.5 238.5C1981.1 237.8 1982.6 237.0 1985.2 236.3C1987.9 235.7 1991.7 234.8 1994.3 234.6C1996.9 234.4 1998.8 234.8 2001.1 235.1C2003.3 235.4 2005.2 236.0 2007.9 236.6C2010.5 237.1 2013.5 238.1 2016.9 238.5C2020.3 238.9 2021.3 238.8 2028.2 238.8C2035.2 238.8 2052.6 238.3 2058.8 238.6C2065.0 238.9 2063.3 239.8 2065.6 240.5C2067.8 241.2 2069.9 241.7 2072.4 242.8C2074.8 243.8 2077.8 245.8 2080.3 246.7C2082.7 247.7 2084.0 248.0 2087.1 248.7C2090.1 249.3 2093.7 250.3 2098.4 250.7C2103.1 251.1 2112.5 250.9 2115.3 250.9" stroke="#D95319" stroke-width="1.5" stroke-opacity="0.62" stroke-dasharray="3.8 2.4"/>
</g>
</svg></body></html>
